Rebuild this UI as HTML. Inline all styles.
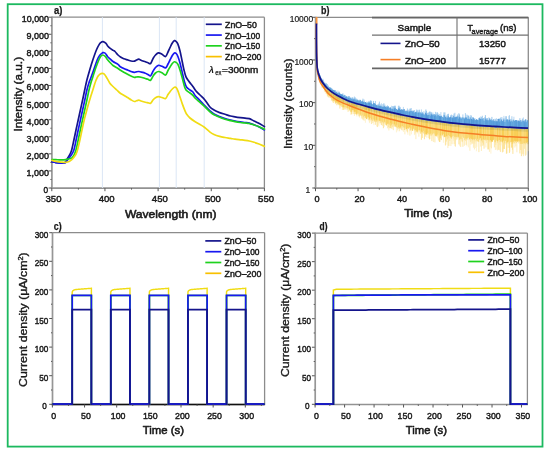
<!DOCTYPE html><html><head><meta charset="utf-8"><style>html,body{margin:0;padding:0;background:#fff;width:550px;height:454px;overflow:hidden}svg{display:block;font-family:"Liberation Sans", sans-serif;will-change:transform}</style></head><body>
<svg width="550" height="454" viewBox="0 0 550 454">
<rect x="0" y="0" width="550" height="454" fill="#fff"/>
<line x1="51.8" y1="17.2" x2="264.4" y2="17.2" stroke="#8c8c8c" stroke-width="1.3"/>
<line x1="264.4" y1="17.2" x2="264.4" y2="188" stroke="#8c8c8c" stroke-width="1.3"/>
<line x1="50.8" y1="188.2" x2="265" y2="188.2" stroke="#929292" stroke-width="1.7"/>
<line x1="51.9" y1="16.6" x2="51.9" y2="189" stroke="#969696" stroke-width="1.7"/>
<line x1="102.4" y1="17.2" x2="102.4" y2="188" stroke="#dbe6f5" stroke-width="1"/>
<line x1="159.4" y1="17.2" x2="159.4" y2="188" stroke="#dbe6f5" stroke-width="1"/>
<line x1="176.2" y1="17.2" x2="176.2" y2="188" stroke="#dbe6f5" stroke-width="1"/>
<line x1="204.2" y1="17.2" x2="204.2" y2="188" stroke="#dbe6f5" stroke-width="1"/>
<g fill="none" stroke-width="1.7" stroke-linejoin="round" stroke-linecap="round">
<path d="M52,161.9C52.67,162.02 54.67,162.4 56,162.6C57.33,162.8 58.75,163.03 60,163.1C61.25,163.17 62.58,163.17 63.5,163C64.42,162.83 64.85,162.83 65.5,162.1C66.15,161.37 66.72,159.78 67.4,158.6C68.08,157.42 68.88,156.43 69.6,155C70.32,153.57 70.98,152.5 71.7,150C72.42,147.5 73.18,143.33 73.9,140C74.62,136.67 75.28,133.33 76,130C76.72,126.67 77.47,123.33 78.2,120C78.93,116.67 79.67,113.33 80.4,110C81.13,106.67 81.88,103.33 82.6,100C83.32,96.67 83.98,93.33 84.7,90C85.42,86.67 86.07,83.33 86.9,80C87.73,76.67 88.72,73.33 89.7,70C90.68,66.67 91.68,63.33 92.8,60C93.92,56.67 95.3,52.65 96.4,50C97.5,47.35 98.58,45.4 99.4,44.1C100.22,42.8 100.7,42.62 101.3,42.2C101.9,41.78 102.22,41.42 103,41.6C103.78,41.78 105.22,42.57 106,43.3C106.78,44.03 107.05,45.18 107.7,46C108.35,46.82 108.98,47.47 109.9,48.2C110.82,48.93 112.35,49.85 113.2,50.4C114.05,50.95 114.2,50.73 115,51.5C115.8,52.27 117.08,54.08 118,55C118.92,55.92 119.53,56.37 120.5,57C121.47,57.63 122.55,58.3 123.8,58.8C125.05,59.3 126.8,59.63 128,60C129.2,60.37 129.93,60.8 131,61C132.07,61.2 133.48,61.37 134.4,61.2C135.32,61.03 135.77,60.35 136.5,60C137.23,59.65 138.05,59.05 138.8,59.1C139.55,59.15 139.92,59.85 141,60.3C142.08,60.75 144.13,61.38 145.3,61.8C146.47,62.22 147.12,62.52 148,62.8C148.88,63.08 149.73,64.27 150.6,63.5C151.47,62.73 152.38,59.62 153.2,58.2C154.02,56.78 154.62,55.88 155.5,55C156.38,54.12 157.42,53.02 158.5,52.9C159.58,52.78 160.82,53.7 162,54.3C163.18,54.9 164.6,56.88 165.6,56.5C166.6,56.12 167.27,53.48 168,52C168.73,50.52 169.28,49.1 170,47.6C170.72,46.1 171.57,44.17 172.3,43C173.03,41.83 173.75,40.85 174.4,40.6C175.05,40.35 175.62,40.92 176.2,41.5C176.78,42.08 177.27,42.52 177.9,44.1C178.53,45.68 179.28,48.1 180,51C180.72,53.9 181.53,58.33 182.2,61.5C182.87,64.67 183.37,67.45 184,70C184.63,72.55 185.17,74.88 186,76.8C186.83,78.72 187.85,79.88 189,81.5C190.15,83.12 191.73,84.92 192.9,86.5C194.07,88.08 194.82,89.58 196,91C197.18,92.42 198.55,93.55 200,95C201.45,96.45 203.08,97.75 204.7,99.7C206.32,101.65 208.15,104.98 209.7,106.7C211.25,108.42 212.35,109.02 214,110C215.65,110.98 217.77,111.88 219.6,112.6C221.43,113.32 223.18,113.73 225,114.3C226.82,114.87 228.83,115.58 230.5,116C232.17,116.42 233.35,116.53 235,116.8C236.65,117.07 238.73,117.37 240.4,117.6C242.07,117.83 243.52,118.03 245,118.2C246.48,118.37 247.8,118.13 249.3,118.6C250.8,119.07 252.5,120.25 254,121C255.5,121.75 256.57,122.18 258.3,123.1C260.03,124.02 263.38,125.93 264.4,126.5" stroke="#14148c"/>
<path d="M52,161.9C52.67,162.02 54.67,162.4 56,162.6C57.33,162.8 58.67,163.03 60,163.1C61.33,163.17 62.93,163.22 64,163C65.07,162.78 65.63,162.57 66.4,161.8C67.17,161.03 67.78,159.53 68.6,158.4C69.42,157.27 70.42,156.4 71.3,155C72.18,153.6 73.1,152.5 73.9,150C74.7,147.5 75.38,143.33 76.1,140C76.82,136.67 77.48,133.33 78.2,130C78.92,126.67 79.67,123.33 80.4,120C81.13,116.67 81.87,113.33 82.6,110C83.33,106.67 84.08,103.33 84.8,100C85.52,96.67 86.22,92.83 86.9,90C87.58,87.17 88.25,85 88.9,83C89.55,81 90,80.17 90.8,78C91.6,75.83 92.63,73 93.7,70C94.77,67 96.18,62.45 97.2,60C98.22,57.55 98.92,56.5 99.8,55.3C100.68,54.1 101.92,53.27 102.5,52.8C103.08,52.33 102.8,52.38 103.3,52.5C103.8,52.62 104.8,52.83 105.5,53.5C106.2,54.17 106.75,55.62 107.5,56.5C108.25,57.38 109.08,57.97 110,58.8C110.92,59.63 111.67,60.57 113,61.5C114.33,62.43 116.83,63.57 118,64.4C119.17,65.23 119.03,65.8 120,66.5C120.97,67.2 122.47,67.98 123.8,68.6C125.13,69.22 126.8,69.72 128,70.2C129.2,70.68 129.93,71.13 131,71.5C132.07,71.87 133.48,72.35 134.4,72.4C135.32,72.45 135.77,71.95 136.5,71.8C137.23,71.65 138.05,71.47 138.8,71.5C139.55,71.53 139.92,71.72 141,72C142.08,72.28 144.13,72.78 145.3,73.2C146.47,73.62 147.12,74.05 148,74.5C148.88,74.95 149.73,76.5 150.6,75.9C151.47,75.3 152.38,72.3 153.2,70.9C154.02,69.5 154.62,68.43 155.5,67.5C156.38,66.57 157.42,65.5 158.5,65.3C159.58,65.1 160.82,65.87 162,66.3C163.18,66.73 164.6,68.28 165.6,67.9C166.6,67.52 167.27,65.32 168,64C168.73,62.68 169.28,61.42 170,60C170.72,58.58 171.57,56.68 172.3,55.5C173.03,54.32 173.75,53.23 174.4,52.9C175.05,52.57 175.62,52.9 176.2,53.5C176.78,54.1 177.27,54.92 177.9,56.5C178.53,58.08 179.25,60.22 180,63C180.75,65.78 181.65,70.03 182.4,73.2C183.15,76.37 183.82,79.7 184.5,82C185.18,84.3 185.58,85.67 186.5,87C187.42,88.33 188.93,89.17 190,90C191.07,90.83 191.98,91 192.9,92C193.82,93 194.32,94.58 195.5,96C196.68,97.42 198.47,98.88 200,100.5C201.53,102.12 203.08,104.02 204.7,105.7C206.32,107.38 208.15,109.22 209.7,110.6C211.25,111.98 212.35,113 214,114C215.65,115 217.77,115.85 219.6,116.6C221.43,117.35 223.18,117.93 225,118.5C226.82,119.07 228.83,119.58 230.5,120C232.17,120.42 233.35,120.68 235,121C236.65,121.32 238.73,121.65 240.4,121.9C242.07,122.15 243.52,122.3 245,122.5C246.48,122.7 247.8,122.72 249.3,123.1C250.8,123.48 252.5,124.23 254,124.8C255.5,125.37 256.57,125.65 258.3,126.5C260.03,127.35 263.38,129.33 264.4,129.9" stroke="#1818f0"/>
<path d="M52,159.5C52.67,159.53 54.67,159.63 56,159.7C57.33,159.77 58.67,159.88 60,159.9C61.33,159.92 62.83,159.88 64,159.8C65.17,159.72 66.08,159.57 67,159.4C67.92,159.23 68.67,159.07 69.5,158.8C70.33,158.53 71.25,158.4 72,157.8C72.75,157.2 73.33,156.5 74,155.2C74.67,153.9 75.3,152.53 76,150C76.7,147.47 77.48,143.33 78.2,140C78.92,136.67 79.58,133.33 80.3,130C81.02,126.67 81.77,123.33 82.5,120C83.23,116.67 83.97,113.33 84.7,110C85.43,106.67 86.18,103.33 86.9,100C87.62,96.67 88.32,92.92 89,90C89.68,87.08 90.37,84.67 91,82.5C91.63,80.33 92.13,79.08 92.8,77C93.47,74.92 94.3,72.08 95,70C95.7,67.92 96.33,66.25 97,64.5C97.67,62.75 98.37,60.87 99,59.5C99.63,58.13 100.2,57.05 100.8,56.3C101.4,55.55 101.87,55 102.6,55C103.33,55 104.43,55.58 105.2,56.3C105.97,57.02 106.4,58.27 107.2,59.3C108,60.33 109.03,61.47 110,62.5C110.97,63.53 111.67,64.5 113,65.5C114.33,66.5 116.75,67.72 118,68.5C119.25,69.28 119.53,69.58 120.5,70.2C121.47,70.82 122.55,71.48 123.8,72.2C125.05,72.92 126.8,73.87 128,74.5C129.2,75.13 129.93,75.53 131,76C132.07,76.47 133.48,77.13 134.4,77.3C135.32,77.47 135.77,77.08 136.5,77C137.23,76.92 138.05,76.77 138.8,76.8C139.55,76.83 139.92,76.92 141,77.2C142.08,77.48 144.13,78.15 145.3,78.5C146.47,78.85 147.12,79 148,79.3C148.88,79.6 149.73,80.87 150.6,80.3C151.47,79.73 152.38,77.12 153.2,75.9C154.02,74.68 154.62,73.73 155.5,73C156.38,72.27 157.42,71.53 158.5,71.5C159.58,71.47 160.82,72.22 162,72.8C163.18,73.38 164.6,75.38 165.6,75C166.6,74.62 167.27,71.82 168,70.5C168.73,69.18 169.28,68.27 170,67.1C170.72,65.93 171.57,64.38 172.3,63.5C173.03,62.62 173.75,61.97 174.4,61.8C175.05,61.63 175.62,62.07 176.2,62.5C176.78,62.93 177.27,63.15 177.9,64.4C178.53,65.65 179.25,67.65 180,70C180.75,72.35 181.58,75.53 182.4,78.5C183.22,81.47 184.22,85.8 184.9,87.8C185.58,89.8 185.65,89.63 186.5,90.5C187.35,91.37 188.93,92.2 190,93C191.07,93.8 191.98,94.38 192.9,95.3C193.82,96.22 194.32,97.33 195.5,98.5C196.68,99.67 198.47,100.93 200,102.3C201.53,103.67 203.08,105.15 204.7,106.7C206.32,108.25 208.15,110.25 209.7,111.6C211.25,112.95 212.35,113.87 214,114.8C215.65,115.73 217.77,116.47 219.6,117.2C221.43,117.93 223.18,118.63 225,119.2C226.82,119.77 228.83,120.2 230.5,120.6C232.17,121 233.35,121.28 235,121.6C236.65,121.92 238.73,122.27 240.4,122.5C242.07,122.73 243.52,122.83 245,123C246.48,123.17 247.8,123.17 249.3,123.5C250.8,123.83 252.5,124.5 254,125C255.5,125.5 256.57,125.82 258.3,126.5C260.03,127.18 263.38,128.67 264.4,129.1" stroke="#1ed21e"/>
<path d="M52,160.4C52.67,160.55 54.42,161.02 56,161.3C57.58,161.58 60,161.92 61.5,162.1C63,162.28 64,162.42 65,162.4C66,162.38 66.73,162.2 67.5,162C68.27,161.8 68.93,161.57 69.6,161.2C70.27,160.83 70.85,160.38 71.5,159.8C72.15,159.22 72.78,158.58 73.5,157.7C74.22,156.82 75.13,155.78 75.8,154.5C76.47,153.22 76.82,152.42 77.5,150C78.18,147.58 79.15,143.33 79.9,140C80.65,136.67 81.28,133.33 82,130C82.72,126.67 83.48,123 84.2,120C84.92,117 85.57,114.75 86.3,112C87.03,109.25 87.78,106.33 88.6,103.5C89.42,100.67 90.37,97.67 91.2,95C92.03,92.33 92.82,89.92 93.6,87.5C94.38,85.08 95.12,82.45 95.9,80.5C96.68,78.55 97.58,76.88 98.3,75.8C99.02,74.72 99.57,74.42 100.2,74C100.83,73.58 101.47,73.33 102.1,73.3C102.73,73.27 103.35,73.27 104,73.8C104.65,74.33 105.05,74.98 106,76.5C106.95,78.02 108.53,81.23 109.7,82.9C110.87,84.57 111.82,85.32 113,86.5C114.18,87.68 115.63,88.92 116.8,90C117.97,91.08 118.83,92.12 120,93C121.17,93.88 122.47,94.5 123.8,95.3C125.13,96.1 126.8,97.05 128,97.8C129.2,98.55 129.93,99.18 131,99.8C132.07,100.42 133.48,101.33 134.4,101.5C135.32,101.67 135.77,101.02 136.5,100.8C137.23,100.58 138.05,100.17 138.8,100.2C139.55,100.23 139.92,100.65 141,101C142.08,101.35 144.13,102 145.3,102.3C146.47,102.6 147.12,102.65 148,102.8C148.88,102.95 149.73,103.72 150.6,103.2C151.47,102.68 152.38,100.6 153.2,99.7C154.02,98.8 154.62,98.3 155.5,97.8C156.38,97.3 157.42,96.75 158.5,96.7C159.58,96.65 160.82,97.2 162,97.5C163.18,97.8 164.6,99 165.6,98.5C166.6,98 167.27,95.62 168,94.5C168.73,93.38 169.28,92.72 170,91.8C170.72,90.88 171.57,89.75 172.3,89C173.03,88.25 173.75,87.53 174.4,87.3C175.05,87.07 175.62,87 176.2,87.6C176.78,88.2 177.27,89.33 177.9,90.9C178.53,92.47 179.25,94.8 180,97C180.75,99.2 181.58,101.83 182.4,104.1C183.22,106.37 184.15,108.85 184.9,110.6C185.65,112.35 186.05,113.37 186.9,114.6C187.75,115.83 188.68,116.85 190,118C191.32,119.15 193.13,120.42 194.8,121.5C196.47,122.58 198.35,123.5 200,124.5C201.65,125.5 203.08,126.27 204.7,127.5C206.32,128.73 208.15,130.73 209.7,131.9C211.25,133.07 212.35,133.75 214,134.5C215.65,135.25 217.77,135.9 219.6,136.4C221.43,136.9 223.18,137.17 225,137.5C226.82,137.83 228.83,138.12 230.5,138.4C232.17,138.68 233.35,138.97 235,139.2C236.65,139.43 238.73,139.62 240.4,139.8C242.07,139.98 243.52,140.1 245,140.3C246.48,140.5 247.8,140.67 249.3,141C250.8,141.33 252.5,141.83 254,142.3C255.5,142.77 256.57,143.13 258.3,143.8C260.03,144.47 263.38,145.88 264.4,146.3" stroke="#f0dc14"/>
</g>
<line x1="48.6" y1="188" x2="51.5" y2="188" stroke="#555555" stroke-width="1"/>
<line x1="50.4" y1="179.46" x2="51.6" y2="179.46" stroke="#555555" stroke-width="1"/>
<line x1="48.6" y1="170.92" x2="51.5" y2="170.92" stroke="#555555" stroke-width="1"/>
<line x1="50.4" y1="162.38" x2="51.6" y2="162.38" stroke="#555555" stroke-width="1"/>
<line x1="48.6" y1="153.84" x2="51.5" y2="153.84" stroke="#555555" stroke-width="1"/>
<line x1="50.4" y1="145.3" x2="51.6" y2="145.3" stroke="#555555" stroke-width="1"/>
<line x1="48.6" y1="136.76" x2="51.5" y2="136.76" stroke="#555555" stroke-width="1"/>
<line x1="50.4" y1="128.22" x2="51.6" y2="128.22" stroke="#555555" stroke-width="1"/>
<line x1="48.6" y1="119.68" x2="51.5" y2="119.68" stroke="#555555" stroke-width="1"/>
<line x1="50.4" y1="111.14" x2="51.6" y2="111.14" stroke="#555555" stroke-width="1"/>
<line x1="48.6" y1="102.6" x2="51.5" y2="102.6" stroke="#555555" stroke-width="1"/>
<line x1="50.4" y1="94.06" x2="51.6" y2="94.06" stroke="#555555" stroke-width="1"/>
<line x1="48.6" y1="85.52" x2="51.5" y2="85.52" stroke="#555555" stroke-width="1"/>
<line x1="50.4" y1="76.98" x2="51.6" y2="76.98" stroke="#555555" stroke-width="1"/>
<line x1="48.6" y1="68.44" x2="51.5" y2="68.44" stroke="#555555" stroke-width="1"/>
<line x1="50.4" y1="59.9" x2="51.6" y2="59.9" stroke="#555555" stroke-width="1"/>
<line x1="48.6" y1="51.36" x2="51.5" y2="51.36" stroke="#555555" stroke-width="1"/>
<line x1="50.4" y1="42.82" x2="51.6" y2="42.82" stroke="#555555" stroke-width="1"/>
<line x1="48.6" y1="34.28" x2="51.5" y2="34.28" stroke="#555555" stroke-width="1"/>
<line x1="50.4" y1="25.74" x2="51.6" y2="25.74" stroke="#555555" stroke-width="1"/>
<line x1="48.6" y1="17.2" x2="51.5" y2="17.2" stroke="#555555" stroke-width="1"/>
<line x1="51.8" y1="188.2" x2="51.8" y2="191.2" stroke="#555555" stroke-width="1"/>
<line x1="78.38" y1="188.2" x2="78.38" y2="189.6" stroke="#555555" stroke-width="1"/>
<line x1="104.95" y1="188.2" x2="104.95" y2="191.2" stroke="#555555" stroke-width="1"/>
<line x1="131.52" y1="188.2" x2="131.52" y2="189.6" stroke="#555555" stroke-width="1"/>
<line x1="158.1" y1="188.2" x2="158.1" y2="191.2" stroke="#555555" stroke-width="1"/>
<line x1="184.68" y1="188.2" x2="184.68" y2="189.6" stroke="#555555" stroke-width="1"/>
<line x1="211.25" y1="188.2" x2="211.25" y2="191.2" stroke="#555555" stroke-width="1"/>
<line x1="237.82" y1="188.2" x2="237.82" y2="189.6" stroke="#555555" stroke-width="1"/>
<line x1="264.4" y1="188.2" x2="264.4" y2="191.2" stroke="#555555" stroke-width="1"/>
<text x="48" y="192.9" font-size="9.4" text-anchor="end" font-weight="normal" fill="#1a1a1a" stroke="#1a1a1a" stroke-width="0.45" stroke-linejoin="round" textLength="4.6" lengthAdjust="spacingAndGlyphs" >0</text>
<text x="49" y="175.82" font-size="9.4" text-anchor="end" font-weight="normal" fill="#1a1a1a" stroke="#1a1a1a" stroke-width="0.45" stroke-linejoin="round" textLength="22.58" lengthAdjust="spacingAndGlyphs" >1,000</text>
<text x="49" y="158.74" font-size="9.4" text-anchor="end" font-weight="normal" fill="#1a1a1a" stroke="#1a1a1a" stroke-width="0.45" stroke-linejoin="round" textLength="22.58" lengthAdjust="spacingAndGlyphs" >2,000</text>
<text x="49" y="141.66" font-size="9.4" text-anchor="end" font-weight="normal" fill="#1a1a1a" stroke="#1a1a1a" stroke-width="0.45" stroke-linejoin="round" textLength="22.58" lengthAdjust="spacingAndGlyphs" >3,000</text>
<text x="49" y="124.58" font-size="9.4" text-anchor="end" font-weight="normal" fill="#1a1a1a" stroke="#1a1a1a" stroke-width="0.45" stroke-linejoin="round" textLength="22.58" lengthAdjust="spacingAndGlyphs" >4,000</text>
<text x="49" y="107.5" font-size="9.4" text-anchor="end" font-weight="normal" fill="#1a1a1a" stroke="#1a1a1a" stroke-width="0.45" stroke-linejoin="round" textLength="22.58" lengthAdjust="spacingAndGlyphs" >5,000</text>
<text x="49" y="90.42" font-size="9.4" text-anchor="end" font-weight="normal" fill="#1a1a1a" stroke="#1a1a1a" stroke-width="0.45" stroke-linejoin="round" textLength="22.58" lengthAdjust="spacingAndGlyphs" >6,000</text>
<text x="49" y="73.34" font-size="9.4" text-anchor="end" font-weight="normal" fill="#1a1a1a" stroke="#1a1a1a" stroke-width="0.45" stroke-linejoin="round" textLength="22.58" lengthAdjust="spacingAndGlyphs" >7,000</text>
<text x="49" y="56.26" font-size="9.4" text-anchor="end" font-weight="normal" fill="#1a1a1a" stroke="#1a1a1a" stroke-width="0.45" stroke-linejoin="round" textLength="22.58" lengthAdjust="spacingAndGlyphs" >8,000</text>
<text x="49" y="39.18" font-size="9.4" text-anchor="end" font-weight="normal" fill="#1a1a1a" stroke="#1a1a1a" stroke-width="0.45" stroke-linejoin="round" textLength="22.58" lengthAdjust="spacingAndGlyphs" >9,000</text>
<text x="49" y="22.1" font-size="9.4" text-anchor="end" font-weight="normal" fill="#1a1a1a" stroke="#1a1a1a" stroke-width="0.45" stroke-linejoin="round" textLength="27.18" lengthAdjust="spacingAndGlyphs" >10,000</text>
<text x="53.5" y="202.3" font-size="9.5" text-anchor="middle" font-weight="normal" fill="#1a1a1a" stroke="#1a1a1a" stroke-width="0.45" stroke-linejoin="round" textLength="16" lengthAdjust="spacingAndGlyphs" >350</text>
<text x="106.65" y="202.3" font-size="9.5" text-anchor="middle" font-weight="normal" fill="#1a1a1a" stroke="#1a1a1a" stroke-width="0.45" stroke-linejoin="round" textLength="16" lengthAdjust="spacingAndGlyphs" >400</text>
<text x="159.8" y="202.3" font-size="9.5" text-anchor="middle" font-weight="normal" fill="#1a1a1a" stroke="#1a1a1a" stroke-width="0.45" stroke-linejoin="round" textLength="16" lengthAdjust="spacingAndGlyphs" >450</text>
<text x="212.95" y="202.3" font-size="9.5" text-anchor="middle" font-weight="normal" fill="#1a1a1a" stroke="#1a1a1a" stroke-width="0.45" stroke-linejoin="round" textLength="16" lengthAdjust="spacingAndGlyphs" >500</text>
<text x="266.1" y="202.3" font-size="9.5" text-anchor="middle" font-weight="normal" fill="#1a1a1a" stroke="#1a1a1a" stroke-width="0.45" stroke-linejoin="round" textLength="16" lengthAdjust="spacingAndGlyphs" >550</text>
<text x="170.7" y="217.6" font-size="11.6" text-anchor="middle" font-weight="normal" fill="#1a1a1a" stroke="#1a1a1a" stroke-width="0.6" stroke-linejoin="round" textLength="91.6" lengthAdjust="spacingAndGlyphs" >Wavelength (nm)</text>
<text x="0" y="0" font-size="11.4" text-anchor="middle" fill="#1a1a1a" stroke="#1a1a1a" stroke-width="0.45" stroke-linejoin="round" textLength="74.5" lengthAdjust="spacingAndGlyphs" transform="translate(21.8,94.2) rotate(-90)">Intensity (a.u.)</text>
<text x="54" y="13.6" font-size="10.3" text-anchor="start" font-weight="bold" fill="#1a1a1a" stroke="#1a1a1a" stroke-width="0.25" stroke-linejoin="round" textLength="8.4" lengthAdjust="spacingAndGlyphs" >a)</text>
<line x1="205.8" y1="24.3" x2="221.8" y2="24.3" stroke="#14148c" stroke-width="1.7"/>
<text x="225.1" y="27.9" font-size="8.6" text-anchor="start" font-weight="normal" fill="#1a1a1a" stroke="#1a1a1a" stroke-width="0.45" stroke-linejoin="round" textLength="31.7" lengthAdjust="spacingAndGlyphs" >ZnO&#8211;50</text>
<line x1="205.8" y1="35.07" x2="221.8" y2="35.07" stroke="#1818f0" stroke-width="1.7"/>
<text x="225.1" y="38.67" font-size="8.6" text-anchor="start" font-weight="normal" fill="#1a1a1a" stroke="#1a1a1a" stroke-width="0.45" stroke-linejoin="round" textLength="35" lengthAdjust="spacingAndGlyphs" >ZnO&#8211;100</text>
<line x1="205.8" y1="45.84" x2="221.8" y2="45.84" stroke="#1ed21e" stroke-width="1.7"/>
<text x="225.1" y="49.44" font-size="8.6" text-anchor="start" font-weight="normal" fill="#1a1a1a" stroke="#1a1a1a" stroke-width="0.45" stroke-linejoin="round" textLength="35" lengthAdjust="spacingAndGlyphs" >ZnO&#8211;150</text>
<line x1="205.8" y1="56.61" x2="221.8" y2="56.61" stroke="#f8c000" stroke-width="1.7"/>
<text x="225.1" y="60.21" font-size="8.6" text-anchor="start" font-weight="normal" fill="#1a1a1a" stroke="#1a1a1a" stroke-width="0.45" stroke-linejoin="round" textLength="36.3" lengthAdjust="spacingAndGlyphs" >ZnO&#8211;200</text>
<text x="208.7" y="73.2" font-size="9.4" font-style="italic" font-weight="bold" fill="#1a1a1a">&#955;</text>
<text x="215.3" y="74.6" font-size="6.6" text-anchor="start" font-weight="normal" fill="#1a1a1a" stroke="#1a1a1a" stroke-width="0.25" stroke-linejoin="round" textLength="6.3" lengthAdjust="spacingAndGlyphs" >ex</text>
<text x="222.1" y="73.2" font-size="8.6" text-anchor="start" font-weight="normal" fill="#1a1a1a" stroke="#1a1a1a" stroke-width="0.4" stroke-linejoin="round" textLength="36.3" lengthAdjust="spacingAndGlyphs" >=300nm</text>
<line x1="315.5" y1="17.3" x2="528.3" y2="17.3" stroke="#8c8c8c" stroke-width="1.3"/>
<line x1="528.3" y1="17.3" x2="528.3" y2="188" stroke="#8c8c8c" stroke-width="1.3"/>
<line x1="314.5" y1="188.2" x2="528.9" y2="188.2" stroke="#929292" stroke-width="1.7"/>
<line x1="315.6" y1="16.7" x2="315.6" y2="189" stroke="#969696" stroke-width="1.7"/>
<path d="M317.9,74.5L317.9,69.2 M321.4,84.1L321.4,78.37 M325.4,89.66L325.4,83.77 M326.9,91.35L326.9,85.3 M334.9,97.4L334.9,91.04 M339.9,100.25L339.9,93.23 M340.4,100.5L340.4,94.06 M343.4,102L343.4,95.89 M346.4,103.5L346.4,96.33 M346.9,103.75L346.9,96.49 M348.9,104.58L348.9,97.68 M351.4,105.37L351.4,99.05 M355.9,106.79L355.9,100.17 M356.4,106.95L356.4,99.65 M357.4,107.26L357.4,99.79 M360.9,108.31L360.9,101.52 M363.4,109.01L363.4,102.01 M365.4,109.58L365.4,102.09 M368.9,110.56L368.9,102.46 M373.4,111.74L373.4,102.89 M374.4,111.99L374.4,103.24 M376.4,112.5L376.4,104.92 M378.4,113.01L378.4,104.65 M380.9,113.65L380.9,106.17 M384.4,114.44L384.4,106.18 M385.4,114.67L385.4,106.84 M385.9,114.78L385.9,106.74 M386.9,115L386.9,107.94 M389.9,115.68L389.9,107.91 M390.4,115.79L390.4,107.21 M396.9,117.22L396.9,109.1 M400.9,118.09L400.9,109.76 M401.9,118.3L401.9,109.25 M409.4,119.86L409.4,111.58 M411.4,120.27L411.4,110.69 M412.4,120.47L412.4,111.76 M416.4,121.2L416.4,111.87 M418.4,121.56L418.4,112.58 M420.9,122.02L420.9,113.37 M422.4,122.29L422.4,112.34 M423.4,122.46L423.4,113.53 M424.4,122.61L424.4,114.56 M425.4,122.77L425.4,112.76 M426.4,122.92L426.4,113.25 M427.4,123.07L427.4,115.06 M430.4,123.53L430.4,115.66 M430.9,123.61L430.9,113.69 M432.9,123.92L432.9,114.41 M437.4,124.55L437.4,114.27 M438.9,124.76L438.9,114.55 M444.9,125.59L444.9,115.45 M445.4,125.65L445.4,116.69 M447.9,125.94L447.9,116.38 M450.4,126.23L450.4,117.01 M451.9,126.41L451.9,117.89 M452.9,126.53L452.9,117.98 M453.4,126.58L453.4,115.89 M454.4,126.7L454.4,117.1 M455.4,126.82L455.4,117.31 M455.9,126.88L455.9,116.92 M461.4,127.4L461.4,118.68 M463.9,127.63L463.9,117.46 M464.9,127.72L464.9,117.97 M465.9,127.82L465.9,117.39 M470.9,128.27L470.9,118.22 M471.9,128.36L471.9,118.95 M472.4,128.4L472.4,119.53 M473.4,128.48L473.4,117.43 M477.4,128.82L477.4,119.94 M479.4,128.98L479.4,117.59 M481.9,129.19L481.9,118.33 M485.4,129.4L485.4,118.9 M489.9,129.66L489.9,118.47 M491.9,129.78L491.9,120.75 M493.4,129.86L493.4,119.26 M495.4,129.98L495.4,121.27 M498.9,130.19L498.9,119 M500.9,130.31L500.9,119.21 M502.9,130.43L502.9,121.38 M506.4,130.62L506.4,119.42 M510.9,130.84L510.9,121.2 M512.9,130.94L512.9,120.6 M516.4,131.12L516.4,120 M516.9,131.14L516.9,121.25 M518.4,131.22L518.4,120.73 M519.4,131.27L519.4,121.29 M519.9,131.29L519.9,120.76 M522.9,131.44L522.9,120.79 M523.4,131.47L523.4,120.47 M526.4,131.62L526.4,122.1" fill="none" stroke="#3d8ed5" stroke-width="0.75"/>
<path d="M316.9,65.37L316.9,60.39 M320.9,83.27L320.9,77.55 M324.9,89.04L324.9,82.8 M329.4,93.53L329.4,87.31 M329.9,93.96L329.9,87.65 M331.4,95.07L331.4,89.2 M332.9,96.07L332.9,89.91 M335.4,97.73L335.4,91.35 M336.9,98.73L336.9,92.77 M341.4,101L341.4,94.44 M342.4,101.5L342.4,94.49 M342.9,101.75L342.9,94.39 M343.9,102.25L343.9,95.41 M345.4,103L345.4,96.28 M349.4,104.74L349.4,98.21 M349.9,104.9L349.9,97.26 M352.4,105.69L352.4,99.03 M355.4,106.63L355.4,99.14 M356.9,107.11L356.9,100.57 M360.4,108.17L360.4,99.97 M361.4,108.45L361.4,101.31 M362.4,108.73L362.4,100.46 M363.9,109.15L363.9,101.62 M366.4,109.86L366.4,103.08 M371.4,111.23L371.4,102.57 M375.9,112.38L375.9,104.81 M384.9,114.55L384.9,106.25 M386.4,114.89L386.4,106.45 M388.4,115.34L388.4,106.36 M391.9,116.12L391.9,108.74 M394.4,116.67L394.4,107.36 M396.4,117.11L396.4,108.93 M397.9,117.44L397.9,109.9 M399.9,117.88L399.9,108.37 M405.4,119.02L405.4,110.69 M406.4,119.23L406.4,110.62 M407.4,119.44L407.4,110.69 M408.9,119.75L408.9,110.48 M410.4,120.07L410.4,110.65 M413.4,120.65L413.4,110.71 M413.9,120.75L413.9,112.66 M419.9,121.84L419.9,111.85 M421.9,122.2L421.9,113.75 M422.9,122.38L422.9,113.44 M434.4,124.14L434.4,114.11 M436.9,124.49L436.9,115.14 M438.4,124.69L438.4,115.11 M441.4,125.1L441.4,115.78 M445.9,125.71L445.9,117.32 M446.4,125.76L446.4,117.66 M454.9,126.76L454.9,116.37 M456.4,126.93L456.4,117.01 M457.9,127.07L457.9,116.2 M458.4,127.12L458.4,118.6 M458.9,127.16L458.9,116.63 M460.4,127.3L460.4,118.22 M461.9,127.44L461.9,117.81 M465.4,127.77L465.4,116.87 M466.4,127.86L466.4,117.2 M466.9,127.91L466.9,117.5 M468.9,128.1L468.9,118.69 M477.9,128.86L477.9,119.71 M478.4,128.9L478.4,120.3 M480.9,129.11L480.9,118.41 M482.4,129.22L482.4,118.73 M487.4,129.51L487.4,120.07 M487.9,129.54L487.9,120.21 M488.4,129.57L488.4,120.41 M490.4,129.69L490.4,119.76 M490.9,129.72L490.9,120.19 M492.4,129.81L492.4,120.14 M492.9,129.84L492.9,121.16 M496.4,130.04L496.4,121 M501.4,130.34L501.4,119.41 M502.4,130.4L502.4,121.01 M504.9,130.54L504.9,121.74 M507.4,130.67L507.4,119.49 M511.4,130.87L511.4,120.81 M512.4,130.92L512.4,121.76 M513.4,130.97L513.4,119.53 M514.4,131.02L514.4,120.85 M515.4,131.07L515.4,120.08 M518.9,131.24L518.9,121 M520.4,131.32L520.4,120.02 M527.4,131.67L527.4,120.24" fill="none" stroke="#4896d8" stroke-width="0.75"/>
<path d="M319.9,80.96L319.9,75.07 M322.4,85.6L322.4,79.92 M322.9,86.35L322.9,80.08 M323.9,87.82L323.9,81.68 M325.9,90.27L325.9,84.16 M330.4,94.4L330.4,87.64 M332.4,95.73L332.4,89.46 M336.4,98.4L336.4,91.77 M337.4,99L337.4,92.9 M338.9,99.75L338.9,93.3 M340.9,100.75L340.9,94.35 M341.9,101.25L341.9,94 M344.9,102.75L344.9,95.46 M348.4,104.43L348.4,97.48 M353.4,106L353.4,99.43 M358.4,107.58L358.4,100.75 M359.9,108.03L359.9,99.76 M361.9,108.59L361.9,101.64 M362.9,108.87L362.9,101.07 M364.9,109.43L364.9,102.11 M365.9,109.72L365.9,102.07 M366.9,110L366.9,103.13 M367.9,110.28L367.9,102.26 M369.4,110.7L369.4,102.19 M369.9,110.84L369.9,102.84 M371.9,111.36L371.9,103.96 M372.9,111.61L372.9,104.46 M376.9,112.63L376.9,105.73 M377.9,112.89L377.9,104.58 M379.9,113.39L379.9,105.81 M387.9,115.23L387.9,106.5 M390.9,115.9L390.9,108.01 M393.9,116.56L393.9,108.34 M394.9,116.78L394.9,108.36 M395.4,116.89L395.4,107.62 M397.4,117.33L397.4,110.08 M398.4,117.55L398.4,108.16 M399.4,117.77L399.4,108.47 M400.4,117.98L400.4,109.65 M402.9,118.5L402.9,109.62 M403.9,118.71L403.9,110.68 M404.4,118.82L404.4,109.09 M407.9,119.55L407.9,111.34 M409.9,119.96L409.9,111.09 M415.4,121.02L415.4,111.85 M418.9,121.65L418.9,112.25 M425.9,122.84L425.9,112.7 M426.9,123L426.9,114.3 M428.4,123.23L428.4,114.94 M431.4,123.69L431.4,114.28 M431.9,123.76L431.9,113.97 M433.9,124.07L433.9,115.21 M434.9,124.21L434.9,115.88 M439.4,124.83L439.4,116.12 M439.9,124.9L439.9,115.97 M440.4,124.97L440.4,116.41 M440.9,125.04L440.9,115.52 M443.4,125.38L443.4,117.32 M447.4,125.88L447.4,117.35 M448.9,126.06L448.9,117.57 M449.4,126.12L449.4,117.28 M450.9,126.29L450.9,115.4 M452.4,126.47L452.4,117.23 M459.4,127.21L459.4,117.08 M459.9,127.26L459.9,116.6 M464.4,127.68L464.4,119.2 M467.4,127.96L467.4,118.94 M469.4,128.14L469.4,119.02 M469.9,128.19L469.9,119.38 M471.4,128.32L471.4,118.81 M473.9,128.52L473.9,119.5 M475.9,128.69L475.9,119.99 M476.4,128.73L476.4,119.09 M479.9,129.02L479.9,118.87 M483.4,129.28L483.4,120.27 M485.9,129.43L485.9,117.99 M495.9,130.01L495.9,119.38 M496.9,130.07L496.9,121.38 M497.4,130.1L497.4,121.31 M499.4,130.22L499.4,119.08 M503.9,130.49L503.9,119.74 M507.9,130.69L507.9,119.68 M510.4,130.82L510.4,121.51 M517.9,131.19L517.9,120.22 M521.9,131.39L521.9,120.33 M524.4,131.52L524.4,120.45 M524.9,131.54L524.9,122.23" fill="none" stroke="#3a8ad3" stroke-width="0.75"/>
<path d="M318.4,76.63L318.4,71.63 M319.4,79.8L319.4,74.24 M321.9,84.85L321.9,79 M326.4,90.88L326.4,84.73 M327.4,91.78L327.4,85.58 M327.9,92.22L327.9,86.27 M328.4,92.66L328.4,86.35 M328.9,93.09L328.9,87.22 M330.9,94.73L330.9,87.78 M333.9,96.73L333.9,89.94 M337.9,99.25L337.9,92.45 M338.4,99.5L338.4,92.89 M344.4,102.5L344.4,94.85 M347.4,104L347.4,97.62 M347.9,104.25L347.9,96.79 M350.4,105.06L350.4,97.76 M351.9,105.53L351.9,97.59 M354.9,106.48L354.9,100.06 M358.9,107.74L358.9,100.27 M364.4,109.29L364.4,101.91 M367.4,110.14L367.4,103.21 M370.4,110.98L370.4,102.5 M372.4,111.49L372.4,104.29 M374.9,112.12L374.9,103.94 M377.4,112.76L377.4,105.76 M378.9,113.14L378.9,105.9 M381.4,113.77L381.4,105.54 M382.9,114.1L382.9,106.41 M388.9,115.45L388.9,107.9 M389.4,115.57L389.4,107.6 M391.4,116.01L391.4,108.56 M393.4,116.45L393.4,109.23 M395.9,117L395.9,109.41 M404.9,118.92L404.9,110.97 M406.9,119.34L406.9,111.12 M408.4,119.65L408.4,112.17 M410.9,120.17L410.9,111.1 M411.9,120.38L411.9,110.66 M414.4,120.84L414.4,111.59 M416.9,121.29L416.9,112.24 M417.4,121.38L417.4,112.44 M417.9,121.47L417.9,111.64 M419.4,121.75L419.4,112.41 M420.4,121.93L420.4,112.52 M423.9,122.54L423.9,114.48 M424.9,122.69L424.9,114.52 M428.9,123.3L428.9,114.74 M429.4,123.38L429.4,114.64 M429.9,123.46L429.9,114.43 M433.4,123.99L433.4,114.25 M436.4,124.42L436.4,116.13 M437.9,124.62L437.9,115.6 M441.9,125.17L441.9,116.96 M442.4,125.24L442.4,117.02 M442.9,125.31L442.9,116.72 M444.4,125.52L444.4,115.13 M446.9,125.82L446.9,115.52 M451.4,126.35L451.4,117.17 M457.4,127.02L457.4,116.43 M460.9,127.35L460.9,117.23 M462.4,127.49L462.4,117.46 M462.9,127.54L462.9,116.94 M463.4,127.58L463.4,118.29 M467.9,128L467.9,118.91 M470.4,128.23L470.4,117.35 M474.9,128.61L474.9,120.1 M478.9,128.94L478.9,118.13 M481.4,129.15L481.4,119.07 M482.9,129.25L482.9,118.8 M483.9,129.31L483.9,118.07 M484.4,129.34L484.4,120.84 M484.9,129.37L484.9,119.43 M488.9,129.6L488.9,120.04 M494.9,129.95L494.9,121.14 M500.4,130.28L500.4,120.69 M504.4,130.52L504.4,119.38 M505.4,130.57L505.4,120.21 M505.9,130.59L505.9,119.8 M506.9,130.64L506.9,119.06 M508.4,130.72L508.4,121.55 M511.9,130.89L511.9,119.67 M513.9,130.99L513.9,120.07 M517.4,131.17L517.4,121.5 M521.4,131.37L521.4,121.78 M522.4,131.42L522.4,121.12 M523.9,131.49L523.9,122.52 M525.9,131.59L525.9,119.26 M526.9,131.64L526.9,120.52 M527.9,131.69L527.9,120.54" fill="none" stroke="#5aa3de" stroke-width="0.75"/>
<path d="M317.4,72L317.4,67.16 M318.9,78.22L318.9,73.05 M320.4,82.11L320.4,76.49 M323.4,87.1L323.4,81.54 M324.4,88.43L324.4,83.01 M331.9,95.4L331.9,89.06 M333.4,96.4L333.4,89.94 M334.4,97.07L334.4,90.19 M335.9,98.07L335.9,92.08 M339.4,100L339.4,93 M345.9,103.25L345.9,96.77 M350.9,105.21L350.9,98.33 M352.9,105.85L352.9,99.09 M353.9,106.16L353.9,98.62 M354.4,106.32L354.4,98.31 M357.9,107.42L357.9,99.84 M359.4,107.88L359.4,100.93 M368.4,110.42L368.4,102.66 M370.9,111.1L370.9,102.5 M373.9,111.87L373.9,103.04 M375.4,112.25L375.4,103.56 M379.4,113.27L379.4,104.27 M380.4,113.52L380.4,105.57 M381.9,113.88L381.9,106.73 M382.4,113.99L382.4,106.68 M383.4,114.22L383.4,106.91 M383.9,114.33L383.9,105.72 M387.4,115.12L387.4,106.93 M392.4,116.23L392.4,108.4 M392.9,116.34L392.9,108.9 M398.9,117.66L398.9,108.03 M401.4,118.19L401.4,109.37 M402.4,118.4L402.4,110.08 M403.4,118.61L403.4,109.07 M405.9,119.13L405.9,111.56 M412.9,120.56L412.9,110.74 M414.9,120.93L414.9,113.08 M415.9,121.11L415.9,111.97 M421.4,122.11L421.4,112.56 M427.9,123.15L427.9,113.08 M432.4,123.84L432.4,115.24 M435.4,124.28L435.4,114.34 M435.9,124.35L435.9,114.37 M443.9,125.45L443.9,114.78 M448.4,126L448.4,115.73 M449.9,126.17L449.9,117.99 M453.9,126.64L453.9,115.89 M456.9,126.97L456.9,116.36 M468.4,128.05L468.4,118.33 M472.9,128.44L472.9,118.17 M474.4,128.57L474.4,118.9 M475.4,128.65L475.4,120.12 M476.9,128.77L476.9,119.76 M480.4,129.07L480.4,118.85 M486.4,129.46L486.4,120.12 M486.9,129.49L486.9,118.83 M489.4,129.63L489.4,118.41 M491.4,129.75L491.4,119.33 M493.9,129.89L493.9,121.09 M494.4,129.92L494.4,120.69 M497.9,130.13L497.9,119.02 M498.4,130.16L498.4,118.78 M499.9,130.25L499.9,121.43 M501.9,130.37L501.9,119.77 M503.4,130.46L503.4,118.54 M508.9,130.74L508.9,119.69 M509.4,130.77L509.4,119.28 M509.9,130.79L509.9,119.63 M514.9,131.04L514.9,120.78 M515.9,131.09L515.9,120.08 M520.9,131.34L520.9,122.11 M525.4,131.57L525.4,119.43" fill="none" stroke="#4592d6" stroke-width="0.75"/>
<path d="M319.4,74.44L319.4,73.59 M322.9,80.28L322.9,78.87 M326.4,84.93L326.4,83.2 M335.4,91.55L335.4,90.01 M335.9,92.28L335.9,90.61 M338.4,93.09L338.4,91.82 M352.4,99.23L352.4,97.57 M354.4,98.51L354.4,96.56 M356.9,100.77L356.9,98.81 M362.9,101.27L362.9,98.66 M366.9,103.33L366.9,101.54 M369.9,103.04L369.9,101.47 M371.4,102.77L371.4,101.01 M375.4,103.76L375.4,100.93 M379.4,104.47L379.4,101.61 M380.9,106.37L380.9,104.6 M384.9,106.45L384.9,104.66 M392.9,109.1L392.9,106.08 M394.4,107.56L394.4,105.69 M398.4,108.36L398.4,106.09 M410.4,110.85L410.4,108.48 M414.4,111.79L414.4,110 M418.9,112.45L418.9,109.83 M419.4,112.61L419.4,109.71 M421.9,113.95L421.9,111.68 M423.9,114.68L423.9,111.23 M432.9,114.61L432.9,112.52 M435.9,114.57L435.9,111.98 M436.4,116.33L436.4,113.58 M437.4,114.47L437.4,112.19 M437.9,115.8L437.9,113.15 M439.9,116.17L439.9,113.91 M443.4,117.52L443.4,115.23 M443.9,114.98L443.9,112.36 M447.4,117.55L447.4,114.16 M451.4,117.37L451.4,114.6 M452.9,118.18L452.9,115.02 M454.9,116.57L454.9,112.78 M457.4,116.63L457.4,114.52 M462.9,117.14L462.9,114.41 M465.4,117.07L465.4,113.14 M468.9,118.89L468.9,115.61 M480.9,118.61L480.9,116.38 M481.4,119.27L481.4,117.01 M482.4,118.93L482.4,115.77 M484.9,119.63L484.9,116.96 M488.9,120.24L488.9,117.31 M494.9,121.34L494.9,118.72 M499.9,121.63L499.9,118.24 M500.4,120.89L500.4,118.07 M501.9,119.97L501.9,117.15 M509.4,119.48L509.4,115.19 M511.9,119.87L511.9,116.26" fill="none" stroke="#8cc0ea" stroke-width="0.75"/>
<path d="M317.9,69.4L317.9,68.6 M323.4,81.74L323.4,80.18 M325.9,84.36L325.9,82.92 M327.4,85.78L327.4,84.06 M328.4,86.55L328.4,85.42 M331.9,89.26L331.9,88.18 M337.9,92.65L337.9,90.54 M342.9,94.59L342.9,93.01 M345.4,96.48L345.4,95.02 M355.4,99.34L355.4,97.27 M363.9,101.82L363.9,99.16 M364.4,102.11L364.4,100.56 M378.9,106.1L378.9,103.24 M379.9,106.01L379.9,103.93 M381.4,105.74L381.4,103.31 M391.4,108.76L391.4,105.72 M392.4,108.6L392.4,106.28 M395.4,107.82L395.4,105.57 M398.9,108.23L398.9,105.41 M400.4,109.85L400.4,106.96 M403.4,109.27L403.4,106.91 M407.4,110.89L407.4,108.28 M411.4,110.89L411.4,108 M416.4,112.07L416.4,109.43 M417.4,112.64L417.4,109.79 M421.4,112.76L421.4,109.35 M427.4,115.26L427.4,112.69 M429.4,114.84L429.4,111.72 M435.4,114.54L435.4,111.84 M440.9,115.72L440.9,112.05 M453.9,116.09L453.9,113.56 M454.4,117.3L454.4,113.92 M465.9,117.59L465.9,114.98 M466.9,117.7L466.9,114.48 M471.4,119.01L471.4,115.82 M496.4,121.2L496.4,118.13 M500.9,119.41L500.9,116.98 M503.9,119.94L503.9,115.86 M504.9,121.94L504.9,117.84 M506.4,119.62L506.4,116.29 M508.9,119.89L508.9,116.06 M513.9,120.27L513.9,116.72 M523.4,120.67L523.4,117.48" fill="none" stroke="#a5cdef" stroke-width="0.75"/>
<path d="M317.4,67.36L317.4,66.58 M318.4,71.83L318.4,70.98 M320.4,76.69L320.4,75.72 M326.9,85.5L326.9,84.26 M331.4,89.4L331.4,88.13 M339.4,93.2L339.4,91.66 M348.4,97.68L348.4,95.97 M349.4,98.41L349.4,96.13 M352.9,99.29L352.9,97.49 M355.9,100.37L355.9,98.39 M368.9,102.66L368.9,100.95 M370.4,102.7L370.4,100.67 M370.9,102.7L370.9,100.3 M373.4,103.09L373.4,100.92 M382.9,106.61L382.9,104.17 M383.9,105.92L383.9,103.28 M387.4,107.13L387.4,105.42 M393.4,109.43L393.4,106.36 M394.9,108.56L394.9,106.15 M399.4,108.67L399.4,106.54 M407.9,111.54L407.9,109.47 M409.9,111.29L409.9,108.7 M416.9,112.44L416.9,110.64 M425.9,112.9L425.9,109.48 M426.4,113.45L426.4,110.96 M428.9,114.94L428.9,112.27 M429.9,114.63L429.9,111.46 M430.9,113.89L430.9,111.89 M431.4,114.48L431.4,112.52 M444.9,115.65L444.9,112.43 M448.4,115.93L448.4,113.78 M458.9,116.83L458.9,113.24 M459.4,117.28L459.4,114.4 M467.9,119.11L467.9,115.21 M468.4,118.53L468.4,116 M469.9,119.58L469.9,117.4 M470.9,118.42L470.9,115.13 M472.4,119.73L472.4,117.15 M474.9,120.3L474.9,118.1 M483.4,120.47L483.4,118.22 M485.4,119.1L485.4,115.12 M487.4,120.27L487.4,118.07 M491.9,120.95L491.9,116.91 M505.9,120L505.9,116.19 M510.9,121.4L510.9,118.91 M519.9,120.96L519.9,118.18 M522.4,121.32L522.4,118.6" fill="none" stroke="#79b5e6" stroke-width="0.75"/>
<path d="M326.9,88.55L326.9,93.94 M331.4,92.76L331.4,98.26 M332.9,93.74L332.9,99.96 M334.9,94.31L334.9,101.6 M335.4,94.9L335.4,102.89 M337.4,95.94L337.4,102.74 M342.4,99.46L342.4,107.15 M347.4,101.66L347.4,107.97 M347.9,101.17L347.9,109.35 M350.9,102.96L350.9,111.92 M352.4,103.25L352.4,110.1 M355.4,104.53L355.4,111.73 M365.4,107.17L365.4,117.96 M366.9,107.25L366.9,119.25 M367.9,107.47L367.9,116.88 M368.4,107.99L368.4,117.7 M369.4,108.46L369.4,120.05 M369.9,108.08L369.9,118.92 M371.4,108.85L371.4,119.71 M373.9,109.37L373.9,119.85 M374.4,110.02L374.4,121.23 M374.9,110.08L374.9,121.76 M376.4,110.18L376.4,120.12 M380.4,110.61L380.4,122.96 M388.4,113.38L388.4,123.71 M389.9,113.41L389.9,124.97 M391.9,113.7L391.9,123.61 M392.9,113.26L392.9,124.01 M394.9,114.65L394.9,126.37 M396.4,115.15L396.4,127.64 M405.9,116.95L405.9,129.41 M409.9,117.08L409.9,129.89 M411.9,118.4L411.9,130.13 M412.4,117.72L412.4,130.96 M416.9,118.61L416.9,129.77 M423.4,120.26L423.4,130.86 M426.9,120.62L426.9,134.83 M427.4,121.14L427.4,132.96 M430.9,121.25L430.9,135.5 M436.4,122.22L436.4,135.66 M440.9,122.9L440.9,135.85 M448.4,123.57L448.4,135.18 M448.9,123.72L448.9,137.9 M450.4,123.62L450.4,137.3 M453.9,124.06L453.9,138.57 M454.9,123.68L454.9,136.78 M455.4,124.32L455.4,137.02 M456.4,124.6L456.4,137.1 M458.9,125.19L458.9,137.81 M459.9,124.34L459.9,139.47 M465.4,124.92L465.4,138.43 M468.4,125.31L468.4,137.83 M470.4,125.16L470.4,138.6 M474.4,126.47L474.4,139.8 M474.9,125.78L474.9,141.42 M478.9,126.83L478.9,141.86 M489.9,127.26L489.9,142.24 M490.9,127.53L490.9,142.49 M491.9,127.29L491.9,141.1 M492.4,127.19L492.4,142.03 M493.4,127.03L493.4,139.88 M500.4,127.95L500.4,141.56 M502.9,127.84L502.9,141.79 M506.9,128.66L506.9,142.22 M507.4,128.22L507.4,142.6 M508.4,128.31L508.4,141.59 M512.9,128.53L512.9,141.62 M515.9,128.68L515.9,141.29 M516.4,128.96L516.4,143.04 M516.9,128.45L516.9,141.2 M522.9,129.13L522.9,143.31 M523.9,129.51L523.9,143.28 M526.9,128.9L526.9,143.57 M527.9,128.74L527.9,144.28" fill="none" stroke="#f7c53a" stroke-width="0.75" stroke-opacity="0.9"/>
<path d="M316.9,60.5L316.9,61.44 M317.4,69.84L317.4,71.56 M320.4,79.55L320.4,83.17 M321.9,81.99L321.9,86.7 M322.9,83.83L322.9,88.01 M325.9,87.75L325.9,92.21 M331.9,92.74L331.9,99.53 M333.9,94.83L333.9,101.1 M334.4,94.53L334.4,100.51 M335.9,95.51L335.9,102.71 M336.4,96.2L336.4,102.7 M338.9,97.09L338.9,105.17 M340.4,97.42L340.4,105.84 M340.9,98.16L340.9,105.13 M341.9,98.47L341.9,105.69 M343.9,99.61L343.9,107.14 M346.9,101.59L346.9,108.39 M351.9,103.29L351.9,110.4 M354.9,103.94L354.9,113.77 M355.9,104.76L355.9,114.17 M357.4,104.34L357.4,114.13 M357.9,104.86L357.9,112.92 M359.9,105.07L359.9,115.96 M360.4,105.38L360.4,114.84 M360.9,105.55L360.9,113.94 M362.4,105.96L362.4,115.63 M363.4,106.83L363.4,117.17 M365.9,107.04L365.9,115.92 M378.9,110.33L378.9,120.87 M379.4,111.28L379.4,121.32 M381.4,111.29L381.4,123.21 M390.4,113.06L390.4,123.27 M391.4,113.89L391.4,125.14 M393.9,113.6L393.9,125.38 M395.4,114.48L395.4,126.75 M399.4,114.69L399.4,127.89 M401.9,116.16L401.9,126 M402.4,115.62L402.4,126.35 M402.9,116.36L402.9,127.8 M403.9,116.16L403.9,127.16 M406.9,117.17L406.9,129.48 M408.4,117.3L408.4,128.98 M410.4,117.01L410.4,127.9 M410.9,117.73L410.9,130.5 M412.9,118.3L412.9,130.39 M415.4,119.03L415.4,130.67 M416.4,118.75L416.4,131.34 M423.9,119.79L423.9,133.68 M424.4,120.59L424.4,132.66 M427.9,120.63L427.9,134.51 M429.4,121.36L429.4,134.72 M429.9,120.77L429.9,133.88 M430.4,121.07L430.4,133.5 M431.9,121.24L431.9,135.67 M432.4,121.76L432.4,134.63 M433.9,121.87L433.9,133.39 M437.4,121.66L437.4,134.68 M438.4,122.43L438.4,133.6 M441.9,122.38L441.9,134.32 M443.4,122.69L443.4,134.37 M443.9,122.39L443.9,137.27 M444.9,123.02L444.9,137.06 M445.9,122.66L445.9,136.83 M446.9,123.3L446.9,136.06 M447.4,123.54L447.4,137.1 M449.4,123.97L449.4,136.05 M451.4,123.43L451.4,139.03 M451.9,124.23L451.9,136.95 M463.9,124.71L463.9,138.19 M466.4,125.9L466.4,140.42 M466.9,125.09L466.9,138.74 M467.4,126.05L467.4,138.31 M469.4,125.74L469.4,139.06 M471.9,125.3L471.9,141.18 M475.4,126.71L475.4,138.96 M477.9,126.52L477.9,141.43 M482.9,126.59L482.9,141.37 M485.4,126.87L485.4,140.46 M487.4,126.8L487.4,139.99 M487.9,127.47L487.9,141.32 M493.9,127.39L493.9,139.55 M494.9,127.87L494.9,142.25 M495.4,127.93L495.4,142.53 M497.4,127.31L497.4,142.83 M501.9,127.46L501.9,142.04 M503.9,128.24L503.9,143.13 M504.4,127.6L504.4,143.32 M505.4,127.64L505.4,141.07 M505.9,127.64L505.9,143.35 M507.9,128.61L507.9,143.68 M511.4,128.22L511.4,141.93 M513.4,128.54L513.4,141.78 M513.9,128.54L513.9,143.39 M514.9,128.2L514.9,143.35 M518.4,129.07L518.4,141.12 M520.4,128.98L520.4,143.77 M526.4,128.92L526.4,142.97" fill="none" stroke="#f8cc4a" stroke-width="0.75" stroke-opacity="0.9"/>
<path d="M324.9,86.16L324.9,91.37 M325.4,87.29L325.4,91.34 M326.4,88.81L326.4,93.34 M328.4,89.94L328.4,95.55 M332.4,92.94L332.4,99.78 M339.9,97.83L339.9,105.7 M341.4,98.87L341.4,106.79 M342.9,99.34L342.9,107.55 M344.4,99.65L344.4,107.36 M345.4,100.6L345.4,107.28 M346.4,101.24L346.4,107.66 M348.4,102.44L348.4,108.75 M348.9,102.64L348.9,110.66 M353.4,103.14L353.4,110.39 M356.9,104.55L356.9,113.9 M358.4,104.67L358.4,113.89 M358.9,105.6L358.9,113.75 M361.9,106.62L361.9,116.7 M364.9,107.38L364.9,116.94 M371.9,108.55L371.9,118.93 M372.4,109.06L372.4,120.88 M373.4,109.4L373.4,119.67 M377.4,110.35L377.4,122.6 M381.9,111.51L381.9,121.35 M384.4,111.76L384.4,122.36 M386.9,111.93L386.9,125.45 M387.4,113.12L387.4,123.95 M395.9,114.1L395.9,125.7 M397.9,115.36L397.9,128.28 M399.9,115.94L399.9,126.14 M400.9,115.49L400.9,129.13 M401.4,115.65L401.4,127.19 M407.4,117.31L407.4,130.37 M408.9,117.09L408.9,128.06 M413.4,117.94L413.4,128.54 M415.9,118.98L415.9,131.46 M417.9,118.53L417.9,131.86 M419.9,119.08L419.9,130.23 M420.4,119.06L420.4,130.94 M420.9,119.6L420.9,131.63 M422.4,120.13L422.4,132.11 M422.9,120.4L422.9,132.72 M424.9,119.81L424.9,132.04 M425.4,120.67L425.4,134.26 M428.9,121.06L428.9,131.87 M433.4,121.42L433.4,133.42 M439.4,121.87L439.4,134.34 M439.9,121.81L439.9,136.34 M442.9,122.51L442.9,136.34 M445.4,122.64L445.4,136.84 M449.9,123.99L449.9,136.35 M452.4,124.23L452.4,136.11 M452.9,124.55L452.9,137.64 M454.4,123.81L454.4,137.01 M456.9,124.13L456.9,139.48 M460.4,124.63L460.4,139.54 M462.4,124.96L462.4,136.77 M463.4,125.42L463.4,137.57 M464.9,124.88L464.9,140.06 M465.9,125.2L465.9,139.39 M467.9,125.48L467.9,140.12 M470.9,125.78L470.9,138.66 M472.9,125.4L472.9,140.37 M475.9,125.91L475.9,141.44 M479.4,126.72L479.4,138.54 M481.4,126.79L481.4,140.43 M485.9,127.14L485.9,139.43 M486.4,127.32L486.4,140.8 M486.9,127.09L486.9,139.9 M494.4,127.64L494.4,139.73 M495.9,128.1L495.9,139.67 M498.4,128.18L498.4,140.35 M501.4,127.5L501.4,140.67 M506.4,128.15L506.4,143.77 M508.9,128.78L508.9,141.77 M509.4,128.06L509.4,142.29 M518.9,128.33L518.9,143.45 M519.4,129.28L519.4,141.77 M522.4,129.36L522.4,143.97 M525.4,128.84L525.4,142.82" fill="none" stroke="#f9d466" stroke-width="0.75" stroke-opacity="0.9"/>
<path d="M317.9,72.21L317.9,74.22 M318.4,73.92L318.4,76.45 M318.9,76.23L318.9,78.56 M322.4,82.64L322.4,86.76 M323.9,85.73L323.9,88.94 M324.4,85.69L324.4,90.34 M327.4,89.68L327.4,94.41 M327.9,89.36L327.9,95.03 M328.9,90.86L328.9,95.63 M329.4,90.48L329.4,96.27 M330.9,91.68L330.9,97.69 M333.4,93.81L333.4,101.02 M336.9,96.39L336.9,102.52 M337.9,96.87L337.9,103.56 M338.4,97.54L338.4,103.83 M339.4,97.36L339.4,104.59 M343.4,99.56L343.4,107.66 M349.4,102.83L349.4,109.55 M349.9,102.65L349.9,109.87 M351.4,103.08L351.4,112.27 M352.9,103.69L352.9,110.29 M353.9,103.84L353.9,111.92 M354.4,103.67L354.4,111.95 M356.4,104.96L356.4,114.7 M364.4,106.53L364.4,116.27 M366.4,107.14L366.4,118.95 M368.9,108.23L368.9,119.76 M370.9,109.13L370.9,120.39 M375.9,109.9L375.9,119.78 M376.9,110.65L376.9,121.29 M379.9,110.96L379.9,120.9 M382.4,111.78L382.4,122.62 M383.9,111.68L383.9,123.36 M384.9,112.35L384.9,121.49 M386.4,112.04L386.4,125.32 M387.9,112.95L387.9,124.16 M390.9,113.99L390.9,126.07 M394.4,114.71L394.4,124.32 M396.9,114.38L396.9,124.76 M398.4,115.6L398.4,127.24 M400.4,115.35L400.4,127.49 M404.4,116.43L404.4,130.02 M406.4,116.51L406.4,128.92 M407.9,117.43L407.9,128.24 M409.4,117.6L409.4,127.63 M413.9,118.48L413.9,128.82 M414.9,118.43L414.9,129.95 M417.4,118.87L417.4,131.73 M419.4,119.82L419.4,130.27 M421.4,120.18L421.4,131.83 M421.9,119.23L421.9,132.28 M425.9,120.85L425.9,133.94 M426.4,120.41L426.4,134.55 M434.9,121.38L434.9,135.37 M435.4,121.86L435.4,136.18 M436.9,122L436.9,136.62 M440.4,122.3L440.4,135.67 M442.4,122.97L442.4,135.18 M444.4,123.14L444.4,136.8 M446.4,123.06L446.4,137.39 M450.9,124.25L450.9,137.8 M457.9,124.04L457.9,137.49 M458.4,124.75L458.4,136.64 M469.9,125.15L469.9,140.12 M471.4,125.71L471.4,139.05 M472.4,125.58L472.4,139.52 M473.4,125.55L473.4,139.55 M476.9,126.54L476.9,141.26 M477.4,126.63L477.4,138.72 M479.9,126.73L479.9,139.99 M480.4,126.86L480.4,138.46 M480.9,126.9L480.9,140.75 M481.9,126.41L481.9,141.33 M483.4,127.17L483.4,139.32 M483.9,127.25L483.9,140.04 M484.9,126.62L484.9,139.8 M488.4,126.53L488.4,140.41 M490.4,126.67L490.4,140.41 M491.4,127.17L491.4,141.81 M492.9,127.13L492.9,140.47 M496.9,127.27L496.9,140.83 M497.9,127.59L497.9,141.15 M499.4,127.38L499.4,140.05 M499.9,127.7L499.9,142.08 M502.4,128.44L502.4,142.97 M503.4,127.55L503.4,140.72 M510.9,128.58L510.9,142.12 M511.9,128.84L511.9,143.7 M512.4,127.96L512.4,143.86 M514.4,129.05L514.4,140.87 M515.4,128.01L515.4,141.81 M517.4,129.04L517.4,142.18 M517.9,128.48L517.9,141.63 M519.9,128.2L519.9,141.3 M520.9,128.68L520.9,141.28 M521.4,128.86L521.4,144 M524.4,129.55L524.4,143.69 M525.9,129.07L525.9,144.45 M527.4,129.64L527.4,142.04" fill="none" stroke="#f6c232" stroke-width="0.75" stroke-opacity="0.9"/>
<path d="M319.4,77.7L319.4,80.68 M319.9,78.21L319.9,81.86 M320.9,81.24L320.9,84.39 M321.4,82.08L321.4,85.18 M323.4,84.2L323.4,88.45 M329.9,91.81L329.9,97.71 M330.4,92.05L330.4,98.19 M344.9,100.11L344.9,106.45 M345.9,100.72L345.9,108.3 M350.4,102.03L350.4,111.65 M359.4,104.97L359.4,114.58 M361.4,105.88L361.4,115.98 M362.9,105.98L362.9,115.23 M363.9,106.13L363.9,115.55 M367.4,107.66L367.4,117.99 M370.4,108.15L370.4,118.1 M372.9,108.58L372.9,121.04 M375.4,110.25L375.4,120.96 M377.9,110.33L377.9,120.5 M378.4,110.47L378.4,122.15 M380.9,111.34L380.9,121.59 M382.9,111.5L382.9,121.28 M383.4,112.27L383.4,122.83 M385.4,111.74L385.4,122.69 M385.9,112.07L385.9,125.04 M388.9,113.13L388.9,124.38 M389.4,112.99L389.4,124.47 M392.4,113.13L392.4,123.56 M393.4,114.39L393.4,125.81 M397.4,114.76L397.4,128.25 M398.9,115.37L398.9,125.46 M403.4,116.26L403.4,127.69 M404.9,116.12L404.9,127.88 M405.4,116.54L405.4,127.11 M411.4,117.77L411.4,128.78 M414.4,118L414.4,130.82 M418.4,119.31L418.4,129.97 M418.9,119.53L418.9,130.8 M428.4,121.14L428.4,131.58 M431.4,121.38L431.4,133.35 M432.9,120.92L432.9,134.06 M434.4,121.16L434.4,133.66 M435.9,121.41L435.9,135.87 M437.9,121.69L437.9,136.13 M438.9,122.73L438.9,135.06 M441.4,122.54L441.4,134.66 M447.9,123.27L447.9,138.54 M453.4,123.7L453.4,136.02 M455.9,123.87L455.9,138.22 M457.4,124.51L457.4,136.33 M459.4,124.18L459.4,139.96 M460.9,124.65L460.9,138.73 M461.4,124.67L461.4,139.41 M461.9,124.68L461.9,138.3 M462.9,125.56L462.9,140.29 M464.4,125.51L464.4,140 M468.9,125.38L468.9,138.28 M473.9,126.31L473.9,138.39 M476.4,126.29L476.4,140.42 M478.4,126.11L478.4,141.58 M482.4,126.83L482.4,139.87 M484.4,126.68L484.4,140.12 M488.9,126.99L488.9,140.17 M489.4,126.99L489.4,140.41 M496.4,127.97L496.4,140.6 M498.9,127.17L498.9,139.92 M500.9,127.23L500.9,141.82 M504.9,127.79L504.9,140.9 M509.9,128.24L509.9,143.18 M510.4,127.76L510.4,142.27 M521.9,129.29L521.9,143.81 M523.4,128.66L523.4,144.24 M524.9,129.4L524.9,143.67" fill="none" stroke="#fad870" stroke-width="0.75" stroke-opacity="0.9"/>
<path d="M318.4,76.25L318.4,77.43 M319.4,80.48L319.4,81.21 M328.4,95.35L328.4,97.45 M328.9,95.43L328.9,96.84 M331.4,98.06L331.4,100.62 M332.4,99.58L332.4,100.97 M332.9,99.76L332.9,102.24 M333.4,100.82L333.4,103.02 M335.4,102.69L335.4,104.08 M337.4,102.54L337.4,104.27 M343.4,107.46L343.4,109.83 M343.9,106.94L343.9,109.72 M347.4,107.77L347.4,109.74 M349.4,109.35L349.4,110.43 M362.9,115.03L362.9,119.55 M363.9,115.35L363.9,118.5 M371.4,119.51L371.4,124.04 M375.4,120.76L375.4,124.81 M375.9,119.58L375.9,122.17 M377.4,122.4L377.4,127.06 M387.9,123.96L387.9,128.39 M388.4,123.51L388.4,127.03 M391.9,123.41L391.9,128.5 M393.9,125.18L393.9,126.86 M401.4,126.99L401.4,130.17 M406.9,129.28L406.9,131.35 M419.9,130.03L419.9,132.24 M420.4,130.74L420.4,133.6 M420.9,131.43L420.9,133.55 M422.4,131.91L422.4,137.98 M425.4,134.06L425.4,136.65 M428.9,131.67L428.9,138.13 M429.4,134.52L429.4,139.48 M434.9,135.17L434.9,142.37 M438.4,133.4L438.4,140.53 M441.4,134.46L441.4,140.1 M455.4,136.82L455.4,146.66 M462.9,140.09L462.9,146.83 M465.4,138.23L465.4,141.06 M466.4,140.22L466.4,144.73 M470.4,138.4L470.4,141.88 M471.9,140.98L471.9,143.66 M472.9,140.17L472.9,143.58 M478.9,141.66L478.9,152.17 M480.9,140.55L480.9,146.53 M483.4,139.12L483.4,144.51 M488.4,140.21L488.4,149.34 M491.4,141.61L491.4,148.29 M494.4,139.53L494.4,147.34 M495.9,139.47L495.9,145.06 M498.4,140.15L498.4,149.82 M500.4,141.36L500.4,151.93 M504.4,143.12L504.4,149.04 M506.4,143.57L506.4,153.75 M511.4,141.73L511.4,147.84 M512.4,143.66L512.4,149.72 M524.4,143.49L524.4,148.79 M525.4,142.62L525.4,155.67" fill="none" stroke="#fbdc80" stroke-width="0.75" stroke-opacity="0.9"/>
<path d="M319.9,81.66L319.9,83.19 M322.4,86.56L322.4,87.78 M326.4,93.14L326.4,94.25 M338.4,103.63L338.4,104.8 M342.4,106.95L342.4,110.01 M345.9,108.1L345.9,109.58 M350.9,111.72L350.9,114.74 M351.4,112.07L351.4,114.25 M352.9,110.09L352.9,112.14 M354.4,111.75L354.4,115.85 M356.9,113.7L356.9,116.43 M357.9,112.72L357.9,114.75 M359.4,114.38L359.4,117.5 M361.4,115.78L361.4,118.55 M362.4,115.43L362.4,118.53 M363.4,116.97L363.4,120.35 M367.9,116.68L367.9,118.57 M368.4,117.5L368.4,119.78 M369.9,118.72L369.9,122.2 M373.4,119.47L373.4,121.05 M376.9,121.09L376.9,126.38 M379.9,120.7L379.9,123.43 M382.4,122.42L382.4,125.77 M385.4,122.49L385.4,124.35 M388.9,124.18L388.9,130.52 M391.4,124.94L391.4,128.56 M393.4,125.61L393.4,130.15 M397.4,128.05L397.4,129.86 M399.4,127.69L399.4,131.26 M404.9,127.68L404.9,134.38 M409.9,129.69L409.9,135.68 M414.9,129.75L414.9,134.18 M415.4,130.47L415.4,132.51 M415.9,131.26L415.9,139.12 M417.4,131.53L417.4,133.35 M418.9,130.6L418.9,136.74 M426.9,134.63L426.9,137.63 M433.4,133.22L433.4,141.99 M437.9,135.93L437.9,138.28 M440.9,135.65L440.9,139.56 M447.9,138.34L447.9,148.03 M449.9,136.15L449.9,140.99 M450.9,137.6L450.9,146.02 M452.9,137.44L452.9,144.18 M454.4,136.81L454.4,143.94 M454.9,136.58L454.9,145.85 M455.9,138.02L455.9,140.25 M459.9,139.27L459.9,145.81 M460.4,139.34L460.4,146.94 M462.4,136.57L462.4,142.13 M464.4,139.8L464.4,145.75 M469.9,139.92L469.9,150.75 M470.9,138.46L470.9,144.79 M473.4,139.35L473.4,147.67 M474.4,139.6L474.4,149.42 M474.9,141.22L474.9,143.74 M481.4,140.23L481.4,150.99 M482.4,139.67L482.4,142.73 M483.9,139.84L483.9,148.7 M485.9,139.23L485.9,147.44 M486.4,140.6L486.4,143.11 M489.4,140.21L489.4,151.85 M495.4,142.33L495.4,149.87 M497.4,142.63L497.4,150.41 M499.4,139.85L499.4,150.27 M499.9,141.88L499.9,145.08 M503.4,140.52L503.4,151.81 M509.9,142.98L509.9,151.73 M514.9,143.15L514.9,147.51 M515.9,141.09L515.9,146.29 M516.9,141L516.9,152.25 M523.4,144.04L523.4,156.22 M527.9,144.08L527.9,151.19" fill="none" stroke="#fce49c" stroke-width="0.75" stroke-opacity="0.9"/>
<path d="M317.9,74.02L317.9,74.85 M318.9,78.36L318.9,79.72 M327.4,94.21L327.4,96.4 M336.9,102.32L336.9,105.27 M339.9,105.5L339.9,108.55 M344.9,106.25L344.9,109.34 M351.9,110.2L351.9,114.23 M353.9,111.72L353.9,114.05 M358.9,113.55L358.9,116.28 M360.9,113.74L360.9,115.39 M364.9,116.74L364.9,118.05 M372.9,120.84L372.9,123.19 M376.4,119.92L376.4,121.62 M381.4,123.01L381.4,125.05 M383.4,122.63L383.4,128.21 M384.9,121.29L384.9,123.61 M389.9,124.77L389.9,128.12 M390.4,123.07L390.4,128.09 M392.4,123.36L392.4,126.94 M398.9,125.26L398.9,129.03 M399.9,125.94L399.9,128.17 M402.9,127.6L402.9,130.46 M407.4,130.17L407.4,132.36 M410.4,127.7L410.4,130.35 M416.9,129.57L416.9,132.22 M421.4,131.63L421.4,139.84 M424.4,132.46L424.4,139.25 M424.9,131.84L424.9,134.62 M428.4,131.38L428.4,133.78 M429.9,133.68L429.9,139.16 M431.9,135.47L431.9,141.11 M439.4,134.14L439.4,142.02 M439.9,136.14L439.9,141.92 M440.4,135.47L440.4,138.24 M445.4,136.64L445.4,145.46 M446.4,137.19L446.4,141.67 M447.4,136.9L447.4,139.49 M448.9,137.7L448.9,145.91 M458.9,137.61L458.9,144.4 M461.9,138.1L461.9,141.44 M482.9,141.17L482.9,145.8 M487.9,141.12L487.9,149.35 M502.4,142.77L502.4,152.36 M503.9,142.93L503.9,148.81 M506.9,142.02L506.9,153.35 M508.9,141.57L508.9,147.82 M509.4,142.09L509.4,152.97 M511.9,143.5L511.9,147.21 M512.9,141.42L512.9,153.89 M519.9,141.1L519.9,153.45 M520.9,141.08L520.9,150.05 M521.4,143.8L521.4,156.18 M522.9,143.11L522.9,153.92" fill="none" stroke="#fad56a" stroke-width="0.75" stroke-opacity="0.9"/>
<path d="M317.4,71.36L317.4,72.48 M320.4,82.97L320.4,84.48 M321.9,86.5L321.9,87.96 M324.4,90.14L324.4,92.28 M325.9,92.01L325.9,93.67 M333.9,100.9L333.9,102.84 M340.9,104.93L340.9,107.35 M346.9,108.19L346.9,110.23 M347.9,109.15L347.9,111.86 M348.4,108.55L348.4,111.83 M361.9,116.5L361.9,117.79 M364.4,116.07L364.4,120.76 M365.4,117.76L365.4,122.73 M368.9,119.56L368.9,121.2 M369.4,119.85L369.4,123.12 M370.4,117.9L370.4,119.83 M373.9,119.65L373.9,125.15 M377.9,120.3L377.9,122.54 M378.4,121.95L378.4,125.43 M378.9,120.67L378.9,126.46 M380.9,121.39L380.9,124.41 M384.4,122.16L384.4,126.71 M387.4,123.75L387.4,127.77 M392.9,123.81L392.9,129.35 M396.4,127.44L396.4,132.36 M397.9,128.08L397.9,131.31 M403.4,127.49L403.4,132 M407.9,128.04L407.9,134.73 M409.4,127.43L409.4,131.23 M411.4,128.58L411.4,134.38 M414.4,130.62L414.4,135.13 M432.9,133.86L432.9,138.34 M443.4,134.17L443.4,142.74 M446.9,135.86L446.9,144.62 M451.4,138.83L451.4,144.13 M453.4,135.82L453.4,140.8 M460.9,138.53L460.9,147.02 M465.9,139.19L465.9,144.92 M466.9,138.54L466.9,146.25 M468.4,137.63L468.4,147.34 M475.4,138.76L475.4,148.06 M476.4,140.22L476.4,151.27 M476.9,141.06L476.9,146.84 M480.4,138.26L480.4,142.8 M484.4,139.92L484.4,148.44 M487.4,139.79L487.4,143.14 M490.4,140.21L490.4,147.39 M490.9,142.29L490.9,153.6 M496.4,140.4L496.4,149.53 M501.9,141.84L501.9,145.42 M505.4,140.87L505.4,144.69 M507.4,142.4L507.4,147.82 M521.9,143.61L521.9,155.17 M523.9,143.08L523.9,154.39 M526.4,142.77L526.4,154.72" fill="none" stroke="#fdebb5" stroke-width="0.75" stroke-opacity="0.9"/>
<path d="M316.3,25C316.33,28.33 316.42,39.5 316.5,45C316.58,50.5 316.68,53.83 316.8,58C316.92,62.17 316.95,67.17 317.2,70C317.45,72.83 317.93,73.37 318.3,75C318.67,76.63 318.95,78.38 319.4,79.8C319.85,81.22 320.27,82.22 321,83.5C321.73,84.78 322.88,86.17 323.8,87.5C324.72,88.83 325.4,90.2 326.5,91.5C327.6,92.8 328.65,93.87 330.4,95.3C332.15,96.73 334.07,98.48 337,100.1C339.93,101.72 344.32,103.47 348,105C351.68,106.53 355.42,107.92 359.1,109.3C362.78,110.68 366.43,112.1 370.1,113.3C373.77,114.5 377.78,115.55 381.1,116.5C384.42,117.45 386.85,118.15 390,119C393.15,119.85 396.33,120.73 400,121.6C403.67,122.47 408.17,123.37 412,124.2C415.83,125.03 419.32,125.83 423,126.6C426.68,127.37 430.43,128.12 434.1,128.8C437.77,129.48 441.33,130.13 445,130.7C448.67,131.27 451.93,131.72 456.1,132.2C460.27,132.68 465.68,133.18 470,133.6C474.32,134.02 478,134.37 482,134.7C486,135.03 490.32,135.32 494,135.6C497.68,135.88 500.43,136.17 504.1,136.4C507.77,136.63 512.02,136.82 516,137C519.98,137.18 526,137.42 528,137.5" fill="none" stroke="#f57e26" stroke-width="1.5"/>
<line x1="316.6" y1="17" x2="316.6" y2="24.5" stroke="#f7943f" stroke-width="1.8"/>
<path d="M316.5,23.4C316.5,26.17 316.48,35.15 316.5,40C316.52,44.85 316.55,49.17 316.6,52.5C316.65,55.83 316.7,57.5 316.8,60C316.9,62.5 316.97,65.42 317.2,67.5C317.43,69.58 317.83,71.03 318.2,72.5C318.57,73.97 318.93,75.05 319.4,76.3C319.87,77.55 320.27,78.68 321,80C321.73,81.32 322.88,82.95 323.8,84.2C324.72,85.45 325.4,86.38 326.5,87.5C327.6,88.62 328.65,89.6 330.4,90.9C332.15,92.2 334.07,93.65 337,95.3C339.93,96.95 344.32,99.3 348,100.8C351.68,102.3 355.42,103.2 359.1,104.3C362.78,105.4 366.43,106.42 370.1,107.4C373.77,108.38 377.78,109.4 381.1,110.2C384.42,111 386.85,111.5 390,112.2C393.15,112.9 396.33,113.62 400,114.4C403.67,115.18 408.17,116.15 412,116.9C415.83,117.65 419.32,118.28 423,118.9C426.68,119.52 430.43,120.07 434.1,120.6C437.77,121.13 441.33,121.63 445,122.1C448.67,122.57 451.93,122.97 456.1,123.4C460.27,123.83 465.68,124.32 470,124.7C474.32,125.08 478,125.42 482,125.7C486,125.98 490.32,126.18 494,126.4C497.68,126.62 500.43,126.8 504.1,127C507.77,127.2 512.02,127.4 516,127.6C519.98,127.8 526,128.1 528,128.2" fill="none" stroke="#14148c" stroke-width="1.7"/>
<line x1="312.3" y1="188" x2="315.2" y2="188" stroke="#555555" stroke-width="1"/>
<line x1="314.1" y1="166.66" x2="315.3" y2="166.66" stroke="#555555" stroke-width="1"/>
<line x1="312.3" y1="145.32" x2="315.2" y2="145.32" stroke="#555555" stroke-width="1"/>
<line x1="314.1" y1="123.99" x2="315.3" y2="123.99" stroke="#555555" stroke-width="1"/>
<line x1="312.3" y1="102.65" x2="315.2" y2="102.65" stroke="#555555" stroke-width="1"/>
<line x1="314.1" y1="81.31" x2="315.3" y2="81.31" stroke="#555555" stroke-width="1"/>
<line x1="312.3" y1="59.98" x2="315.2" y2="59.98" stroke="#555555" stroke-width="1"/>
<line x1="314.1" y1="38.64" x2="315.3" y2="38.64" stroke="#555555" stroke-width="1"/>
<line x1="312.3" y1="17.3" x2="315.2" y2="17.3" stroke="#555555" stroke-width="1"/>
<line x1="315.5" y1="188.2" x2="315.5" y2="191.2" stroke="#555555" stroke-width="1"/>
<line x1="336.78" y1="188.2" x2="336.78" y2="189.6" stroke="#555555" stroke-width="1"/>
<line x1="358.06" y1="188.2" x2="358.06" y2="191.2" stroke="#555555" stroke-width="1"/>
<line x1="379.34" y1="188.2" x2="379.34" y2="189.6" stroke="#555555" stroke-width="1"/>
<line x1="400.62" y1="188.2" x2="400.62" y2="191.2" stroke="#555555" stroke-width="1"/>
<line x1="421.9" y1="188.2" x2="421.9" y2="189.6" stroke="#555555" stroke-width="1"/>
<line x1="443.18" y1="188.2" x2="443.18" y2="191.2" stroke="#555555" stroke-width="1"/>
<line x1="464.46" y1="188.2" x2="464.46" y2="189.6" stroke="#555555" stroke-width="1"/>
<line x1="485.74" y1="188.2" x2="485.74" y2="191.2" stroke="#555555" stroke-width="1"/>
<line x1="507.02" y1="188.2" x2="507.02" y2="189.6" stroke="#555555" stroke-width="1"/>
<line x1="528.3" y1="188.2" x2="528.3" y2="191.2" stroke="#555555" stroke-width="1"/>
<text x="310.2" y="192.7" font-size="9" text-anchor="end" font-weight="normal" fill="#1a1a1a" stroke="#1a1a1a" stroke-width="0.22" stroke-linejoin="round" textLength="4.7" lengthAdjust="spacingAndGlyphs" >1</text>
<text x="313.2" y="150.02" font-size="9" text-anchor="end" font-weight="normal" fill="#1a1a1a" stroke="#1a1a1a" stroke-width="0.22" stroke-linejoin="round" textLength="9.4" lengthAdjust="spacingAndGlyphs" >10</text>
<text x="313.2" y="107.35" font-size="9" text-anchor="end" font-weight="normal" fill="#1a1a1a" stroke="#1a1a1a" stroke-width="0.22" stroke-linejoin="round" textLength="14.1" lengthAdjust="spacingAndGlyphs" >100</text>
<text x="313.2" y="64.68" font-size="9" text-anchor="end" font-weight="normal" fill="#1a1a1a" stroke="#1a1a1a" stroke-width="0.22" stroke-linejoin="round" textLength="18.8" lengthAdjust="spacingAndGlyphs" >1000</text>
<text x="313.2" y="22" font-size="9" text-anchor="end" font-weight="normal" fill="#1a1a1a" stroke="#1a1a1a" stroke-width="0.22" stroke-linejoin="round" textLength="23.5" lengthAdjust="spacingAndGlyphs" >10000</text>
<text x="317" y="202.4" font-size="8.8" text-anchor="middle" font-weight="normal" fill="#1a1a1a" stroke="#1a1a1a" stroke-width="0.45" stroke-linejoin="round" textLength="5.1" lengthAdjust="spacingAndGlyphs" >0</text>
<text x="359.56" y="202.4" font-size="8.8" text-anchor="middle" font-weight="normal" fill="#1a1a1a" stroke="#1a1a1a" stroke-width="0.45" stroke-linejoin="round" textLength="10.2" lengthAdjust="spacingAndGlyphs" >20</text>
<text x="402.12" y="202.4" font-size="8.8" text-anchor="middle" font-weight="normal" fill="#1a1a1a" stroke="#1a1a1a" stroke-width="0.45" stroke-linejoin="round" textLength="10.2" lengthAdjust="spacingAndGlyphs" >40</text>
<text x="444.68" y="202.4" font-size="8.8" text-anchor="middle" font-weight="normal" fill="#1a1a1a" stroke="#1a1a1a" stroke-width="0.45" stroke-linejoin="round" textLength="10.2" lengthAdjust="spacingAndGlyphs" >60</text>
<text x="487.24" y="202.4" font-size="8.8" text-anchor="middle" font-weight="normal" fill="#1a1a1a" stroke="#1a1a1a" stroke-width="0.45" stroke-linejoin="round" textLength="10.2" lengthAdjust="spacingAndGlyphs" >80</text>
<text x="529.8" y="202.4" font-size="8.8" text-anchor="middle" font-weight="normal" fill="#1a1a1a" stroke="#1a1a1a" stroke-width="0.45" stroke-linejoin="round" textLength="15.3" lengthAdjust="spacingAndGlyphs" >100</text>
<text x="428.3" y="217.3" font-size="11.5" text-anchor="middle" font-weight="normal" fill="#1a1a1a" stroke="#1a1a1a" stroke-width="0.6" stroke-linejoin="round" textLength="48.2" lengthAdjust="spacingAndGlyphs" >Time (ns)</text>
<text x="0" y="0" font-size="11.2" text-anchor="middle" fill="#1a1a1a" stroke="#1a1a1a" stroke-width="0.38" stroke-linejoin="round" textLength="90.5" lengthAdjust="spacingAndGlyphs" transform="translate(292,103.8) rotate(-90)">Intensity (counts)</text>
<text x="321" y="13.6" font-size="10.3" text-anchor="start" font-weight="bold" fill="#1a1a1a" stroke="#1a1a1a" stroke-width="0.25" stroke-linejoin="round" textLength="8.4" lengthAdjust="spacingAndGlyphs" >b)</text>
<line x1="372" y1="17.6" x2="528.3" y2="17.6" stroke="#666666" stroke-width="1.8"/>
<line x1="372" y1="35.1" x2="528.3" y2="35.1" stroke="#707070" stroke-width="1.1"/>
<line x1="372" y1="68.3" x2="528.3" y2="68.3" stroke="#666666" stroke-width="1.8"/>
<line x1="457" y1="17.6" x2="457" y2="68.3" stroke="#707070" stroke-width="1.1"/>
<text x="414.4" y="31.4" font-size="9.8" text-anchor="middle" font-weight="normal" fill="#1a1a1a" stroke="#1a1a1a" stroke-width="0.5" stroke-linejoin="round" textLength="33.6" lengthAdjust="spacingAndGlyphs" >Sample</text>
<text x="467.6" y="31.4" font-size="9.8" text-anchor="start" font-weight="normal" fill="#1a1a1a" stroke="#1a1a1a" stroke-width="0.5" stroke-linejoin="round" textLength="5.4" lengthAdjust="spacingAndGlyphs" >T</text>
<text x="471.6" y="33.9" font-size="6.6" text-anchor="start" font-weight="normal" fill="#1a1a1a" stroke="#1a1a1a" stroke-width="0.32" stroke-linejoin="round" textLength="26.5" lengthAdjust="spacingAndGlyphs" >average</text>
<text x="500" y="31.4" font-size="9.8" text-anchor="start" font-weight="normal" fill="#1a1a1a" stroke="#1a1a1a" stroke-width="0.5" stroke-linejoin="round" textLength="16.5" lengthAdjust="spacingAndGlyphs" >(ns)</text>
<line x1="380.5" y1="43.4" x2="400.5" y2="43.4" stroke="#14148c" stroke-width="1.6"/>
<line x1="380.5" y1="59.6" x2="400.5" y2="59.6" stroke="#f57e26" stroke-width="1.6"/>
<text x="404.9" y="47.4" font-size="9.8" text-anchor="start" font-weight="normal" fill="#1a1a1a" stroke="#1a1a1a" stroke-width="0.5" stroke-linejoin="round" textLength="34.8" lengthAdjust="spacingAndGlyphs" >ZnO&#8211;50</text>
<text x="404.9" y="63.6" font-size="9.8" text-anchor="start" font-weight="normal" fill="#1a1a1a" stroke="#1a1a1a" stroke-width="0.5" stroke-linejoin="round" textLength="41" lengthAdjust="spacingAndGlyphs" >ZnO&#8211;200</text>
<text x="492.4" y="47.4" font-size="9.8" text-anchor="middle" font-weight="normal" fill="#1a1a1a" stroke="#1a1a1a" stroke-width="0.5" stroke-linejoin="round" textLength="26.8" lengthAdjust="spacingAndGlyphs" >13250</text>
<text x="492.4" y="63.6" font-size="9.8" text-anchor="middle" font-weight="normal" fill="#1a1a1a" stroke="#1a1a1a" stroke-width="0.5" stroke-linejoin="round" textLength="26.8" lengthAdjust="spacingAndGlyphs" >15777</text>
<line x1="52.4" y1="232.7" x2="264.6" y2="232.7" stroke="#8c8c8c" stroke-width="1.3"/>
<line x1="264.6" y1="232.7" x2="264.6" y2="404.3" stroke="#8c8c8c" stroke-width="1.3"/>
<line x1="51.4" y1="404.5" x2="265.2" y2="404.5" stroke="#929292" stroke-width="1.7"/>
<line x1="52.5" y1="232.1" x2="52.5" y2="405.3" stroke="#969696" stroke-width="1.7"/>
<line x1="52.4" y1="404.4" x2="264.6" y2="404.4" stroke="#111111" stroke-width="1.5"/>
<path d="M52.4,404.07 L72.21,404.07 L72.21,291.84 L72.52,291.27 L72.84,290.84 L73.16,290.52 L73.48,290.28 L73.8,290.1 L74.12,289.96 L74.44,289.85 L74.76,289.76 L75.08,289.69 L75.4,289.63 L75.72,289.58 L76.04,289.54 L76.36,289.5 L76.68,289.47 L77,289.43 L77.32,289.4 L77.63,289.37 L77.95,289.35 L78.27,289.32 L78.59,289.29 L78.91,289.27 L79.23,289.24 L79.55,289.22 L79.87,289.19 L80.19,289.17 L80.51,289.14 L80.83,289.12 L81.15,289.09 L81.47,289.07 L81.79,289.04 L82.11,289.02 L82.43,288.99 L82.74,288.97 L83.06,288.94 L83.38,288.92 L83.7,288.89 L84.02,288.87 L84.34,288.84 L84.66,288.82 L84.98,288.79 L85.3,288.77 L85.62,288.74 L85.94,288.72 L86.26,288.69 L86.58,288.67 L86.9,288.65 L87.22,288.62 L87.54,288.6 L87.85,288.57 L88.17,288.55 L88.49,288.52 L88.81,288.5 L89.13,288.47 L89.45,288.45 L89.77,288.42 L90.09,288.4 L90.41,288.37 L90.73,288.35 L91.05,288.32 L91.37,288.3 L91.37,404.07 L110.79,404.07 L110.79,291.84 L111.11,291.27 L111.43,290.84 L111.75,290.52 L112.06,290.28 L112.38,290.1 L112.7,289.96 L113.02,289.85 L113.34,289.76 L113.66,289.69 L113.98,289.63 L114.3,289.58 L114.62,289.54 L114.94,289.5 L115.26,289.47 L115.58,289.43 L115.9,289.4 L116.22,289.37 L116.54,289.35 L116.86,289.32 L117.17,289.29 L117.49,289.27 L117.81,289.24 L118.13,289.22 L118.45,289.19 L118.77,289.17 L119.09,289.14 L119.41,289.12 L119.73,289.09 L120.05,289.07 L120.37,289.04 L120.69,289.02 L121.01,288.99 L121.33,288.97 L121.65,288.94 L121.97,288.92 L122.28,288.89 L122.6,288.87 L122.92,288.84 L123.24,288.82 L123.56,288.79 L123.88,288.77 L124.2,288.74 L124.52,288.72 L124.84,288.69 L125.16,288.67 L125.48,288.65 L125.8,288.62 L126.12,288.6 L126.44,288.57 L126.76,288.55 L127.08,288.52 L127.39,288.5 L127.71,288.47 L128.03,288.45 L128.35,288.42 L128.67,288.4 L128.99,288.37 L129.31,288.35 L129.63,288.32 L129.95,288.3 L129.95,404.07 L149.37,404.07 L149.37,291.84 L149.69,291.27 L150.01,290.84 L150.33,290.52 L150.65,290.28 L150.97,290.1 L151.29,289.96 L151.6,289.85 L151.92,289.76 L152.24,289.69 L152.56,289.63 L152.88,289.58 L153.2,289.54 L153.52,289.5 L153.84,289.47 L154.16,289.43 L154.48,289.4 L154.8,289.37 L155.12,289.35 L155.44,289.32 L155.76,289.29 L156.08,289.27 L156.4,289.24 L156.71,289.22 L157.03,289.19 L157.35,289.17 L157.67,289.14 L157.99,289.12 L158.31,289.09 L158.63,289.07 L158.95,289.04 L159.27,289.02 L159.59,288.99 L159.91,288.97 L160.23,288.94 L160.55,288.92 L160.87,288.89 L161.19,288.87 L161.51,288.84 L161.82,288.82 L162.14,288.79 L162.46,288.77 L162.78,288.74 L163.1,288.72 L163.42,288.69 L163.74,288.67 L164.06,288.65 L164.38,288.62 L164.7,288.6 L165.02,288.57 L165.34,288.55 L165.66,288.52 L165.98,288.5 L166.3,288.47 L166.62,288.45 L166.93,288.42 L167.25,288.4 L167.57,288.37 L167.89,288.35 L168.21,288.32 L168.53,288.3 L168.53,404.07 L187.95,404.07 L187.95,291.84 L188.27,291.27 L188.59,290.84 L188.91,290.52 L189.23,290.28 L189.55,290.1 L189.87,289.96 L190.19,289.85 L190.51,289.76 L190.83,289.69 L191.14,289.63 L191.46,289.58 L191.78,289.54 L192.1,289.5 L192.42,289.47 L192.74,289.43 L193.06,289.4 L193.38,289.37 L193.7,289.35 L194.02,289.32 L194.34,289.29 L194.66,289.27 L194.98,289.24 L195.3,289.22 L195.62,289.19 L195.94,289.17 L196.25,289.14 L196.57,289.12 L196.89,289.09 L197.21,289.07 L197.53,289.04 L197.85,289.02 L198.17,288.99 L198.49,288.97 L198.81,288.94 L199.13,288.92 L199.45,288.89 L199.77,288.87 L200.09,288.84 L200.41,288.82 L200.73,288.79 L201.05,288.77 L201.36,288.74 L201.68,288.72 L202,288.69 L202.32,288.67 L202.64,288.65 L202.96,288.62 L203.28,288.6 L203.6,288.57 L203.92,288.55 L204.24,288.52 L204.56,288.5 L204.88,288.47 L205.2,288.45 L205.52,288.42 L205.84,288.4 L206.15,288.37 L206.47,288.35 L206.79,288.32 L207.11,288.3 L207.11,404.07 L226.53,404.07 L226.53,291.84 L226.85,291.27 L227.17,290.84 L227.49,290.52 L227.81,290.28 L228.13,290.1 L228.45,289.96 L228.77,289.85 L229.09,289.76 L229.41,289.69 L229.73,289.63 L230.05,289.58 L230.37,289.54 L230.68,289.5 L231,289.47 L231.32,289.43 L231.64,289.4 L231.96,289.37 L232.28,289.35 L232.6,289.32 L232.92,289.29 L233.24,289.27 L233.56,289.24 L233.88,289.22 L234.2,289.19 L234.52,289.17 L234.84,289.14 L235.16,289.12 L235.48,289.09 L235.79,289.07 L236.11,289.04 L236.43,289.02 L236.75,288.99 L237.07,288.97 L237.39,288.94 L237.71,288.92 L238.03,288.89 L238.35,288.87 L238.67,288.84 L238.99,288.82 L239.31,288.79 L239.63,288.77 L239.95,288.74 L240.27,288.72 L240.58,288.69 L240.9,288.67 L241.22,288.65 L241.54,288.62 L241.86,288.6 L242.18,288.57 L242.5,288.55 L242.82,288.52 L243.14,288.5 L243.46,288.47 L243.78,288.45 L244.1,288.42 L244.42,288.4 L244.74,288.37 L245.06,288.35 L245.38,288.32 L245.69,288.3 L245.69,404.07 L264.6,404.07" fill="none" stroke="#f0dc14" stroke-width="1.45" stroke-linejoin="miter"/>
<path d="M52.4,404.07 L72.21,404.07 L72.21,295.51 L72.52,295.51 L72.84,295.51 L73.16,295.51 L73.48,295.51 L73.8,295.51 L74.12,295.51 L74.44,295.51 L74.76,295.51 L75.08,295.51 L75.4,295.51 L75.72,295.51 L76.04,295.51 L76.36,295.51 L76.68,295.51 L77,295.51 L77.32,295.51 L77.63,295.51 L77.95,295.51 L78.27,295.51 L78.59,295.51 L78.91,295.51 L79.23,295.51 L79.55,295.51 L79.87,295.51 L80.19,295.51 L80.51,295.51 L80.83,295.51 L81.15,295.51 L81.47,295.51 L81.79,295.51 L82.11,295.51 L82.43,295.51 L82.74,295.51 L83.06,295.51 L83.38,295.51 L83.7,295.51 L84.02,295.51 L84.34,295.51 L84.66,295.51 L84.98,295.51 L85.3,295.51 L85.62,295.51 L85.94,295.51 L86.26,295.51 L86.58,295.51 L86.9,295.51 L87.22,295.51 L87.54,295.51 L87.85,295.51 L88.17,295.51 L88.49,295.51 L88.81,295.51 L89.13,295.51 L89.45,295.51 L89.77,295.51 L90.09,295.51 L90.41,295.51 L90.73,295.51 L91.05,295.51 L91.37,295.51 L91.37,404.07 L110.79,404.07 L110.79,295.51 L111.11,295.51 L111.43,295.51 L111.75,295.51 L112.06,295.51 L112.38,295.51 L112.7,295.51 L113.02,295.51 L113.34,295.51 L113.66,295.51 L113.98,295.51 L114.3,295.51 L114.62,295.51 L114.94,295.51 L115.26,295.51 L115.58,295.51 L115.9,295.51 L116.22,295.51 L116.54,295.51 L116.86,295.51 L117.17,295.51 L117.49,295.51 L117.81,295.51 L118.13,295.51 L118.45,295.51 L118.77,295.51 L119.09,295.51 L119.41,295.51 L119.73,295.51 L120.05,295.51 L120.37,295.51 L120.69,295.51 L121.01,295.51 L121.33,295.51 L121.65,295.51 L121.97,295.51 L122.28,295.51 L122.6,295.51 L122.92,295.51 L123.24,295.51 L123.56,295.51 L123.88,295.51 L124.2,295.51 L124.52,295.51 L124.84,295.51 L125.16,295.51 L125.48,295.51 L125.8,295.51 L126.12,295.51 L126.44,295.51 L126.76,295.51 L127.08,295.51 L127.39,295.51 L127.71,295.51 L128.03,295.51 L128.35,295.51 L128.67,295.51 L128.99,295.51 L129.31,295.51 L129.63,295.51 L129.95,295.51 L129.95,404.07 L149.37,404.07 L149.37,295.51 L149.69,295.51 L150.01,295.51 L150.33,295.51 L150.65,295.51 L150.97,295.51 L151.29,295.51 L151.6,295.51 L151.92,295.51 L152.24,295.51 L152.56,295.51 L152.88,295.51 L153.2,295.51 L153.52,295.51 L153.84,295.51 L154.16,295.51 L154.48,295.51 L154.8,295.51 L155.12,295.51 L155.44,295.51 L155.76,295.51 L156.08,295.51 L156.4,295.51 L156.71,295.51 L157.03,295.51 L157.35,295.51 L157.67,295.51 L157.99,295.51 L158.31,295.51 L158.63,295.51 L158.95,295.51 L159.27,295.51 L159.59,295.51 L159.91,295.51 L160.23,295.51 L160.55,295.51 L160.87,295.51 L161.19,295.51 L161.51,295.51 L161.82,295.51 L162.14,295.51 L162.46,295.51 L162.78,295.51 L163.1,295.51 L163.42,295.51 L163.74,295.51 L164.06,295.51 L164.38,295.51 L164.7,295.51 L165.02,295.51 L165.34,295.51 L165.66,295.51 L165.98,295.51 L166.3,295.51 L166.62,295.51 L166.93,295.51 L167.25,295.51 L167.57,295.51 L167.89,295.51 L168.21,295.51 L168.53,295.51 L168.53,404.07 L187.95,404.07 L187.95,295.51 L188.27,295.51 L188.59,295.51 L188.91,295.51 L189.23,295.51 L189.55,295.51 L189.87,295.51 L190.19,295.51 L190.51,295.51 L190.83,295.51 L191.14,295.51 L191.46,295.51 L191.78,295.51 L192.1,295.51 L192.42,295.51 L192.74,295.51 L193.06,295.51 L193.38,295.51 L193.7,295.51 L194.02,295.51 L194.34,295.51 L194.66,295.51 L194.98,295.51 L195.3,295.51 L195.62,295.51 L195.94,295.51 L196.25,295.51 L196.57,295.51 L196.89,295.51 L197.21,295.51 L197.53,295.51 L197.85,295.51 L198.17,295.51 L198.49,295.51 L198.81,295.51 L199.13,295.51 L199.45,295.51 L199.77,295.51 L200.09,295.51 L200.41,295.51 L200.73,295.51 L201.05,295.51 L201.36,295.51 L201.68,295.51 L202,295.51 L202.32,295.51 L202.64,295.51 L202.96,295.51 L203.28,295.51 L203.6,295.51 L203.92,295.51 L204.24,295.51 L204.56,295.51 L204.88,295.51 L205.2,295.51 L205.52,295.51 L205.84,295.51 L206.15,295.51 L206.47,295.51 L206.79,295.51 L207.11,295.51 L207.11,404.07 L226.53,404.07 L226.53,295.51 L226.85,295.51 L227.17,295.51 L227.49,295.51 L227.81,295.51 L228.13,295.51 L228.45,295.51 L228.77,295.51 L229.09,295.51 L229.41,295.51 L229.73,295.51 L230.05,295.51 L230.37,295.51 L230.68,295.51 L231,295.51 L231.32,295.51 L231.64,295.51 L231.96,295.51 L232.28,295.51 L232.6,295.51 L232.92,295.51 L233.24,295.51 L233.56,295.51 L233.88,295.51 L234.2,295.51 L234.52,295.51 L234.84,295.51 L235.16,295.51 L235.48,295.51 L235.79,295.51 L236.11,295.51 L236.43,295.51 L236.75,295.51 L237.07,295.51 L237.39,295.51 L237.71,295.51 L238.03,295.51 L238.35,295.51 L238.67,295.51 L238.99,295.51 L239.31,295.51 L239.63,295.51 L239.95,295.51 L240.27,295.51 L240.58,295.51 L240.9,295.51 L241.22,295.51 L241.54,295.51 L241.86,295.51 L242.18,295.51 L242.5,295.51 L242.82,295.51 L243.14,295.51 L243.46,295.51 L243.78,295.51 L244.1,295.51 L244.42,295.51 L244.74,295.51 L245.06,295.51 L245.38,295.51 L245.69,295.51 L245.69,404.07 L264.6,404.07" fill="none" stroke="#1ed21e" stroke-width="1.7" stroke-linejoin="miter"/>
<path d="M52.4,404.07 L72.21,404.07 L72.21,295.28 L72.52,295.28 L72.84,295.28 L73.16,295.28 L73.48,295.28 L73.8,295.28 L74.12,295.28 L74.44,295.28 L74.76,295.28 L75.08,295.28 L75.4,295.28 L75.72,295.28 L76.04,295.28 L76.36,295.28 L76.68,295.28 L77,295.28 L77.32,295.28 L77.63,295.28 L77.95,295.28 L78.27,295.28 L78.59,295.28 L78.91,295.28 L79.23,295.28 L79.55,295.28 L79.87,295.28 L80.19,295.28 L80.51,295.28 L80.83,295.28 L81.15,295.28 L81.47,295.28 L81.79,295.28 L82.11,295.28 L82.43,295.28 L82.74,295.28 L83.06,295.28 L83.38,295.28 L83.7,295.28 L84.02,295.28 L84.34,295.28 L84.66,295.28 L84.98,295.28 L85.3,295.28 L85.62,295.28 L85.94,295.28 L86.26,295.28 L86.58,295.28 L86.9,295.28 L87.22,295.28 L87.54,295.28 L87.85,295.28 L88.17,295.28 L88.49,295.28 L88.81,295.28 L89.13,295.28 L89.45,295.28 L89.77,295.28 L90.09,295.28 L90.41,295.28 L90.73,295.28 L91.05,295.28 L91.37,295.28 L91.37,404.07 L110.79,404.07 L110.79,295.28 L111.11,295.28 L111.43,295.28 L111.75,295.28 L112.06,295.28 L112.38,295.28 L112.7,295.28 L113.02,295.28 L113.34,295.28 L113.66,295.28 L113.98,295.28 L114.3,295.28 L114.62,295.28 L114.94,295.28 L115.26,295.28 L115.58,295.28 L115.9,295.28 L116.22,295.28 L116.54,295.28 L116.86,295.28 L117.17,295.28 L117.49,295.28 L117.81,295.28 L118.13,295.28 L118.45,295.28 L118.77,295.28 L119.09,295.28 L119.41,295.28 L119.73,295.28 L120.05,295.28 L120.37,295.28 L120.69,295.28 L121.01,295.28 L121.33,295.28 L121.65,295.28 L121.97,295.28 L122.28,295.28 L122.6,295.28 L122.92,295.28 L123.24,295.28 L123.56,295.28 L123.88,295.28 L124.2,295.28 L124.52,295.28 L124.84,295.28 L125.16,295.28 L125.48,295.28 L125.8,295.28 L126.12,295.28 L126.44,295.28 L126.76,295.28 L127.08,295.28 L127.39,295.28 L127.71,295.28 L128.03,295.28 L128.35,295.28 L128.67,295.28 L128.99,295.28 L129.31,295.28 L129.63,295.28 L129.95,295.28 L129.95,404.07 L149.37,404.07 L149.37,295.28 L149.69,295.28 L150.01,295.28 L150.33,295.28 L150.65,295.28 L150.97,295.28 L151.29,295.28 L151.6,295.28 L151.92,295.28 L152.24,295.28 L152.56,295.28 L152.88,295.28 L153.2,295.28 L153.52,295.28 L153.84,295.28 L154.16,295.28 L154.48,295.28 L154.8,295.28 L155.12,295.28 L155.44,295.28 L155.76,295.28 L156.08,295.28 L156.4,295.28 L156.71,295.28 L157.03,295.28 L157.35,295.28 L157.67,295.28 L157.99,295.28 L158.31,295.28 L158.63,295.28 L158.95,295.28 L159.27,295.28 L159.59,295.28 L159.91,295.28 L160.23,295.28 L160.55,295.28 L160.87,295.28 L161.19,295.28 L161.51,295.28 L161.82,295.28 L162.14,295.28 L162.46,295.28 L162.78,295.28 L163.1,295.28 L163.42,295.28 L163.74,295.28 L164.06,295.28 L164.38,295.28 L164.7,295.28 L165.02,295.28 L165.34,295.28 L165.66,295.28 L165.98,295.28 L166.3,295.28 L166.62,295.28 L166.93,295.28 L167.25,295.28 L167.57,295.28 L167.89,295.28 L168.21,295.28 L168.53,295.28 L168.53,404.07 L187.95,404.07 L187.95,295.28 L188.27,295.28 L188.59,295.28 L188.91,295.28 L189.23,295.28 L189.55,295.28 L189.87,295.28 L190.19,295.28 L190.51,295.28 L190.83,295.28 L191.14,295.28 L191.46,295.28 L191.78,295.28 L192.1,295.28 L192.42,295.28 L192.74,295.28 L193.06,295.28 L193.38,295.28 L193.7,295.28 L194.02,295.28 L194.34,295.28 L194.66,295.28 L194.98,295.28 L195.3,295.28 L195.62,295.28 L195.94,295.28 L196.25,295.28 L196.57,295.28 L196.89,295.28 L197.21,295.28 L197.53,295.28 L197.85,295.28 L198.17,295.28 L198.49,295.28 L198.81,295.28 L199.13,295.28 L199.45,295.28 L199.77,295.28 L200.09,295.28 L200.41,295.28 L200.73,295.28 L201.05,295.28 L201.36,295.28 L201.68,295.28 L202,295.28 L202.32,295.28 L202.64,295.28 L202.96,295.28 L203.28,295.28 L203.6,295.28 L203.92,295.28 L204.24,295.28 L204.56,295.28 L204.88,295.28 L205.2,295.28 L205.52,295.28 L205.84,295.28 L206.15,295.28 L206.47,295.28 L206.79,295.28 L207.11,295.28 L207.11,404.07 L226.53,404.07 L226.53,295.28 L226.85,295.28 L227.17,295.28 L227.49,295.28 L227.81,295.28 L228.13,295.28 L228.45,295.28 L228.77,295.28 L229.09,295.28 L229.41,295.28 L229.73,295.28 L230.05,295.28 L230.37,295.28 L230.68,295.28 L231,295.28 L231.32,295.28 L231.64,295.28 L231.96,295.28 L232.28,295.28 L232.6,295.28 L232.92,295.28 L233.24,295.28 L233.56,295.28 L233.88,295.28 L234.2,295.28 L234.52,295.28 L234.84,295.28 L235.16,295.28 L235.48,295.28 L235.79,295.28 L236.11,295.28 L236.43,295.28 L236.75,295.28 L237.07,295.28 L237.39,295.28 L237.71,295.28 L238.03,295.28 L238.35,295.28 L238.67,295.28 L238.99,295.28 L239.31,295.28 L239.63,295.28 L239.95,295.28 L240.27,295.28 L240.58,295.28 L240.9,295.28 L241.22,295.28 L241.54,295.28 L241.86,295.28 L242.18,295.28 L242.5,295.28 L242.82,295.28 L243.14,295.28 L243.46,295.28 L243.78,295.28 L244.1,295.28 L244.42,295.28 L244.74,295.28 L245.06,295.28 L245.38,295.28 L245.69,295.28 L245.69,404.07 L264.6,404.07" fill="none" stroke="#1818f0" stroke-width="1.7" stroke-linejoin="miter"/>
<path d="M52.4,404.07 L72.21,404.07 L72.21,309.58 L72.52,309.58 L72.84,309.58 L73.16,309.58 L73.48,309.58 L73.8,309.58 L74.12,309.58 L74.44,309.58 L74.76,309.58 L75.08,309.58 L75.4,309.58 L75.72,309.58 L76.04,309.58 L76.36,309.58 L76.68,309.58 L77,309.58 L77.32,309.58 L77.63,309.58 L77.95,309.58 L78.27,309.58 L78.59,309.58 L78.91,309.58 L79.23,309.58 L79.55,309.58 L79.87,309.58 L80.19,309.58 L80.51,309.58 L80.83,309.58 L81.15,309.58 L81.47,309.58 L81.79,309.58 L82.11,309.58 L82.43,309.58 L82.74,309.58 L83.06,309.58 L83.38,309.58 L83.7,309.58 L84.02,309.58 L84.34,309.58 L84.66,309.58 L84.98,309.58 L85.3,309.58 L85.62,309.58 L85.94,309.58 L86.26,309.58 L86.58,309.58 L86.9,309.58 L87.22,309.58 L87.54,309.58 L87.85,309.58 L88.17,309.58 L88.49,309.58 L88.81,309.58 L89.13,309.58 L89.45,309.58 L89.77,309.58 L90.09,309.58 L90.41,309.58 L90.73,309.58 L91.05,309.58 L91.37,309.58 L91.37,404.07 L110.79,404.07 L110.79,309.58 L111.11,309.58 L111.43,309.58 L111.75,309.58 L112.06,309.58 L112.38,309.58 L112.7,309.58 L113.02,309.58 L113.34,309.58 L113.66,309.58 L113.98,309.58 L114.3,309.58 L114.62,309.58 L114.94,309.58 L115.26,309.58 L115.58,309.58 L115.9,309.58 L116.22,309.58 L116.54,309.58 L116.86,309.58 L117.17,309.58 L117.49,309.58 L117.81,309.58 L118.13,309.58 L118.45,309.58 L118.77,309.58 L119.09,309.58 L119.41,309.58 L119.73,309.58 L120.05,309.58 L120.37,309.58 L120.69,309.58 L121.01,309.58 L121.33,309.58 L121.65,309.58 L121.97,309.58 L122.28,309.58 L122.6,309.58 L122.92,309.58 L123.24,309.58 L123.56,309.58 L123.88,309.58 L124.2,309.58 L124.52,309.58 L124.84,309.58 L125.16,309.58 L125.48,309.58 L125.8,309.58 L126.12,309.58 L126.44,309.58 L126.76,309.58 L127.08,309.58 L127.39,309.58 L127.71,309.58 L128.03,309.58 L128.35,309.58 L128.67,309.58 L128.99,309.58 L129.31,309.58 L129.63,309.58 L129.95,309.58 L129.95,404.07 L149.37,404.07 L149.37,309.58 L149.69,309.58 L150.01,309.58 L150.33,309.58 L150.65,309.58 L150.97,309.58 L151.29,309.58 L151.6,309.58 L151.92,309.58 L152.24,309.58 L152.56,309.58 L152.88,309.58 L153.2,309.58 L153.52,309.58 L153.84,309.58 L154.16,309.58 L154.48,309.58 L154.8,309.58 L155.12,309.58 L155.44,309.58 L155.76,309.58 L156.08,309.58 L156.4,309.58 L156.71,309.58 L157.03,309.58 L157.35,309.58 L157.67,309.58 L157.99,309.58 L158.31,309.58 L158.63,309.58 L158.95,309.58 L159.27,309.58 L159.59,309.58 L159.91,309.58 L160.23,309.58 L160.55,309.58 L160.87,309.58 L161.19,309.58 L161.51,309.58 L161.82,309.58 L162.14,309.58 L162.46,309.58 L162.78,309.58 L163.1,309.58 L163.42,309.58 L163.74,309.58 L164.06,309.58 L164.38,309.58 L164.7,309.58 L165.02,309.58 L165.34,309.58 L165.66,309.58 L165.98,309.58 L166.3,309.58 L166.62,309.58 L166.93,309.58 L167.25,309.58 L167.57,309.58 L167.89,309.58 L168.21,309.58 L168.53,309.58 L168.53,404.07 L187.95,404.07 L187.95,309.58 L188.27,309.58 L188.59,309.58 L188.91,309.58 L189.23,309.58 L189.55,309.58 L189.87,309.58 L190.19,309.58 L190.51,309.58 L190.83,309.58 L191.14,309.58 L191.46,309.58 L191.78,309.58 L192.1,309.58 L192.42,309.58 L192.74,309.58 L193.06,309.58 L193.38,309.58 L193.7,309.58 L194.02,309.58 L194.34,309.58 L194.66,309.58 L194.98,309.58 L195.3,309.58 L195.62,309.58 L195.94,309.58 L196.25,309.58 L196.57,309.58 L196.89,309.58 L197.21,309.58 L197.53,309.58 L197.85,309.58 L198.17,309.58 L198.49,309.58 L198.81,309.58 L199.13,309.58 L199.45,309.58 L199.77,309.58 L200.09,309.58 L200.41,309.58 L200.73,309.58 L201.05,309.58 L201.36,309.58 L201.68,309.58 L202,309.58 L202.32,309.58 L202.64,309.58 L202.96,309.58 L203.28,309.58 L203.6,309.58 L203.92,309.58 L204.24,309.58 L204.56,309.58 L204.88,309.58 L205.2,309.58 L205.52,309.58 L205.84,309.58 L206.15,309.58 L206.47,309.58 L206.79,309.58 L207.11,309.58 L207.11,404.07 L226.53,404.07 L226.53,309.58 L226.85,309.58 L227.17,309.58 L227.49,309.58 L227.81,309.58 L228.13,309.58 L228.45,309.58 L228.77,309.58 L229.09,309.58 L229.41,309.58 L229.73,309.58 L230.05,309.58 L230.37,309.58 L230.68,309.58 L231,309.58 L231.32,309.58 L231.64,309.58 L231.96,309.58 L232.28,309.58 L232.6,309.58 L232.92,309.58 L233.24,309.58 L233.56,309.58 L233.88,309.58 L234.2,309.58 L234.52,309.58 L234.84,309.58 L235.16,309.58 L235.48,309.58 L235.79,309.58 L236.11,309.58 L236.43,309.58 L236.75,309.58 L237.07,309.58 L237.39,309.58 L237.71,309.58 L238.03,309.58 L238.35,309.58 L238.67,309.58 L238.99,309.58 L239.31,309.58 L239.63,309.58 L239.95,309.58 L240.27,309.58 L240.58,309.58 L240.9,309.58 L241.22,309.58 L241.54,309.58 L241.86,309.58 L242.18,309.58 L242.5,309.58 L242.82,309.58 L243.14,309.58 L243.46,309.58 L243.78,309.58 L244.1,309.58 L244.42,309.58 L244.74,309.58 L245.06,309.58 L245.38,309.58 L245.69,309.58 L245.69,404.07 L264.6,404.07" fill="none" stroke="#14148c" stroke-width="1.75" stroke-linejoin="miter"/>
<line x1="53.2" y1="404.07" x2="71.41" y2="404.07" stroke="#1c1cd2" stroke-width="1.5"/>
<line x1="92.17" y1="404.07" x2="109.99" y2="404.07" stroke="#1c1cd2" stroke-width="1.5"/>
<line x1="130.75" y1="404.07" x2="148.57" y2="404.07" stroke="#1c1cd2" stroke-width="1.5"/>
<line x1="169.33" y1="404.07" x2="187.15" y2="404.07" stroke="#1c1cd2" stroke-width="1.5"/>
<line x1="207.91" y1="404.07" x2="225.73" y2="404.07" stroke="#1c1cd2" stroke-width="1.5"/>
<line x1="246.49" y1="404.07" x2="263.8" y2="404.07" stroke="#1c1cd2" stroke-width="1.5"/>
<line x1="49.2" y1="404.3" x2="52.1" y2="404.3" stroke="#555555" stroke-width="1"/>
<line x1="51" y1="390" x2="52.2" y2="390" stroke="#555555" stroke-width="1"/>
<line x1="49.2" y1="375.7" x2="52.1" y2="375.7" stroke="#555555" stroke-width="1"/>
<line x1="51" y1="361.4" x2="52.2" y2="361.4" stroke="#555555" stroke-width="1"/>
<line x1="49.2" y1="347.1" x2="52.1" y2="347.1" stroke="#555555" stroke-width="1"/>
<line x1="51" y1="332.8" x2="52.2" y2="332.8" stroke="#555555" stroke-width="1"/>
<line x1="49.2" y1="318.5" x2="52.1" y2="318.5" stroke="#555555" stroke-width="1"/>
<line x1="51" y1="304.2" x2="52.2" y2="304.2" stroke="#555555" stroke-width="1"/>
<line x1="49.2" y1="289.9" x2="52.1" y2="289.9" stroke="#555555" stroke-width="1"/>
<line x1="51" y1="275.6" x2="52.2" y2="275.6" stroke="#555555" stroke-width="1"/>
<line x1="49.2" y1="261.3" x2="52.1" y2="261.3" stroke="#555555" stroke-width="1"/>
<line x1="51" y1="247" x2="52.2" y2="247" stroke="#555555" stroke-width="1"/>
<line x1="49.2" y1="232.7" x2="52.1" y2="232.7" stroke="#555555" stroke-width="1"/>
<text x="46.8" y="409.3" font-size="9.6" text-anchor="end" font-weight="normal" fill="#1a1a1a" stroke="#1a1a1a" stroke-width="0.45" stroke-linejoin="round" textLength="4.55" lengthAdjust="spacingAndGlyphs" >0</text>
<text x="48.3" y="380.7" font-size="9.6" text-anchor="end" font-weight="normal" fill="#1a1a1a" stroke="#1a1a1a" stroke-width="0.45" stroke-linejoin="round" textLength="9.1" lengthAdjust="spacingAndGlyphs" >50</text>
<text x="48.3" y="352.1" font-size="9.6" text-anchor="end" font-weight="normal" fill="#1a1a1a" stroke="#1a1a1a" stroke-width="0.45" stroke-linejoin="round" textLength="13.65" lengthAdjust="spacingAndGlyphs" >100</text>
<text x="48.3" y="323.5" font-size="9.6" text-anchor="end" font-weight="normal" fill="#1a1a1a" stroke="#1a1a1a" stroke-width="0.45" stroke-linejoin="round" textLength="13.65" lengthAdjust="spacingAndGlyphs" >150</text>
<text x="48.3" y="294.9" font-size="9.6" text-anchor="end" font-weight="normal" fill="#1a1a1a" stroke="#1a1a1a" stroke-width="0.45" stroke-linejoin="round" textLength="13.65" lengthAdjust="spacingAndGlyphs" >200</text>
<text x="48.3" y="266.3" font-size="9.6" text-anchor="end" font-weight="normal" fill="#1a1a1a" stroke="#1a1a1a" stroke-width="0.45" stroke-linejoin="round" textLength="13.65" lengthAdjust="spacingAndGlyphs" >250</text>
<text x="48.3" y="237.7" font-size="9.6" text-anchor="end" font-weight="normal" fill="#1a1a1a" stroke="#1a1a1a" stroke-width="0.45" stroke-linejoin="round" textLength="13.65" lengthAdjust="spacingAndGlyphs" >300</text>
<line x1="52.4" y1="404.5" x2="52.4" y2="407.5" stroke="#555555" stroke-width="1"/>
<line x1="68.48" y1="404.5" x2="68.48" y2="405.9" stroke="#555555" stroke-width="1"/>
<line x1="84.55" y1="404.5" x2="84.55" y2="407.5" stroke="#555555" stroke-width="1"/>
<line x1="100.63" y1="404.5" x2="100.63" y2="405.9" stroke="#555555" stroke-width="1"/>
<line x1="116.7" y1="404.5" x2="116.7" y2="407.5" stroke="#555555" stroke-width="1"/>
<line x1="132.78" y1="404.5" x2="132.78" y2="405.9" stroke="#555555" stroke-width="1"/>
<line x1="148.85" y1="404.5" x2="148.85" y2="407.5" stroke="#555555" stroke-width="1"/>
<line x1="164.93" y1="404.5" x2="164.93" y2="405.9" stroke="#555555" stroke-width="1"/>
<line x1="181.01" y1="404.5" x2="181.01" y2="407.5" stroke="#555555" stroke-width="1"/>
<line x1="197.08" y1="404.5" x2="197.08" y2="405.9" stroke="#555555" stroke-width="1"/>
<line x1="213.16" y1="404.5" x2="213.16" y2="407.5" stroke="#555555" stroke-width="1"/>
<line x1="229.23" y1="404.5" x2="229.23" y2="405.9" stroke="#555555" stroke-width="1"/>
<line x1="245.31" y1="404.5" x2="245.31" y2="407.5" stroke="#555555" stroke-width="1"/>
<line x1="261.38" y1="404.5" x2="261.38" y2="405.9" stroke="#555555" stroke-width="1"/>
<text x="53.8" y="418.6" font-size="9.3" text-anchor="middle" font-weight="normal" fill="#1a1a1a" stroke="#1a1a1a" stroke-width="0.45" stroke-linejoin="round" textLength="4.9" lengthAdjust="spacingAndGlyphs" >0</text>
<text x="85.95" y="418.6" font-size="9.3" text-anchor="middle" font-weight="normal" fill="#1a1a1a" stroke="#1a1a1a" stroke-width="0.45" stroke-linejoin="round" textLength="9.8" lengthAdjust="spacingAndGlyphs" >50</text>
<text x="118.1" y="418.6" font-size="9.3" text-anchor="middle" font-weight="normal" fill="#1a1a1a" stroke="#1a1a1a" stroke-width="0.45" stroke-linejoin="round" textLength="14.7" lengthAdjust="spacingAndGlyphs" >100</text>
<text x="150.25" y="418.6" font-size="9.3" text-anchor="middle" font-weight="normal" fill="#1a1a1a" stroke="#1a1a1a" stroke-width="0.45" stroke-linejoin="round" textLength="14.7" lengthAdjust="spacingAndGlyphs" >150</text>
<text x="182.41" y="418.6" font-size="9.3" text-anchor="middle" font-weight="normal" fill="#1a1a1a" stroke="#1a1a1a" stroke-width="0.45" stroke-linejoin="round" textLength="14.7" lengthAdjust="spacingAndGlyphs" >200</text>
<text x="214.56" y="418.6" font-size="9.3" text-anchor="middle" font-weight="normal" fill="#1a1a1a" stroke="#1a1a1a" stroke-width="0.45" stroke-linejoin="round" textLength="14.7" lengthAdjust="spacingAndGlyphs" >250</text>
<text x="246.71" y="418.6" font-size="9.3" text-anchor="middle" font-weight="normal" fill="#1a1a1a" stroke="#1a1a1a" stroke-width="0.45" stroke-linejoin="round" textLength="14.7" lengthAdjust="spacingAndGlyphs" >300</text>
<text x="163.4" y="434.2" font-size="11.8" text-anchor="middle" font-weight="normal" fill="#1a1a1a" stroke="#1a1a1a" stroke-width="0.6" stroke-linejoin="round" textLength="41.3" lengthAdjust="spacingAndGlyphs" >Time (s)</text>
<text x="0" y="0" font-size="10.8" text-anchor="middle" fill="#1a1a1a" stroke="#1a1a1a" stroke-width="0.36" stroke-linejoin="round" textLength="134.6" lengthAdjust="spacingAndGlyphs" transform="translate(26.9,319.6) rotate(-90)">Current density (&#956;A/cm<tspan font-size="6.5" dy="-4">2</tspan><tspan dy="4">)</tspan></text>
<text x="53.8" y="229.8" font-size="10.3" text-anchor="start" font-weight="bold" fill="#1a1a1a" stroke="#1a1a1a" stroke-width="0.25" stroke-linejoin="round" textLength="7.9" lengthAdjust="spacingAndGlyphs" >c)</text>
<line x1="205.3" y1="240.9" x2="221.3" y2="240.9" stroke="#14148c" stroke-width="1.7"/>
<text x="224.5" y="244.4" font-size="8.6" text-anchor="start" font-weight="normal" fill="#1a1a1a" stroke="#1a1a1a" stroke-width="0.45" stroke-linejoin="round" textLength="31.8" lengthAdjust="spacingAndGlyphs" >ZnO&#8211;50</text>
<line x1="205.3" y1="251.7" x2="221.3" y2="251.7" stroke="#1818f0" stroke-width="1.7"/>
<text x="224.5" y="255.2" font-size="8.6" text-anchor="start" font-weight="normal" fill="#1a1a1a" stroke="#1a1a1a" stroke-width="0.45" stroke-linejoin="round" textLength="35" lengthAdjust="spacingAndGlyphs" >ZnO&#8211;100</text>
<line x1="205.3" y1="262.5" x2="221.3" y2="262.5" stroke="#1ed21e" stroke-width="1.7"/>
<text x="224.5" y="266" font-size="8.6" text-anchor="start" font-weight="normal" fill="#1a1a1a" stroke="#1a1a1a" stroke-width="0.45" stroke-linejoin="round" textLength="35" lengthAdjust="spacingAndGlyphs" >ZnO&#8211;150</text>
<line x1="205.3" y1="273.3" x2="221.3" y2="273.3" stroke="#f8c000" stroke-width="1.7"/>
<text x="224.5" y="276.8" font-size="8.6" text-anchor="start" font-weight="normal" fill="#1a1a1a" stroke="#1a1a1a" stroke-width="0.45" stroke-linejoin="round" textLength="36.8" lengthAdjust="spacingAndGlyphs" >ZnO&#8211;200</text>
<line x1="315.1" y1="233.1" x2="527.4" y2="233.1" stroke="#8c8c8c" stroke-width="1.3"/>
<line x1="527.4" y1="233.1" x2="527.4" y2="404.3" stroke="#8c8c8c" stroke-width="1.3"/>
<line x1="314.1" y1="404.5" x2="528" y2="404.5" stroke="#929292" stroke-width="1.7"/>
<line x1="315.2" y1="232.5" x2="315.2" y2="405.3" stroke="#969696" stroke-width="1.7"/>
<path d="M315.1,404.07 L333.38,404.07 L333.38,290.11 L336.33,289.31 L339.28,289.22 L342.23,289.2 L345.18,289.18 L348.13,289.16 L351.08,289.15 L354.04,289.13 L356.99,289.11 L359.94,289.09 L362.89,289.07 L365.84,289.05 L368.79,289.04 L371.74,289.02 L374.69,289 L377.64,288.98 L380.59,288.96 L383.54,288.95 L386.49,288.93 L389.44,288.91 L392.39,288.89 L395.34,288.87 L398.29,288.86 L401.24,288.84 L404.2,288.82 L407.15,288.8 L410.1,288.78 L413.05,288.77 L416,288.75 L418.95,288.73 L421.9,288.71 L424.85,288.69 L427.8,288.68 L430.75,288.66 L433.7,288.64 L436.65,288.62 L439.6,288.6 L442.55,288.58 L445.5,288.57 L448.45,288.55 L451.4,288.53 L454.36,288.51 L457.31,288.49 L460.26,288.48 L463.21,288.46 L466.16,288.44 L469.11,288.42 L472.06,288.4 L475.01,288.39 L477.96,288.37 L480.91,288.35 L483.86,288.33 L486.81,288.31 L489.76,288.3 L492.71,288.28 L495.66,288.26 L498.61,288.24 L501.56,288.22 L504.51,288.21 L507.47,288.19 L510.42,288.17 L510.42,404.07 L527.4,404.07" fill="none" stroke="#f0dc14" stroke-width="1.45" stroke-linejoin="miter"/>
<path d="M315.1,404.07 L333.38,404.07 L333.38,295.53 L336.33,295.51 L339.28,295.48 L342.23,295.46 L345.18,295.44 L348.13,295.41 L351.08,295.39 L354.04,295.36 L356.99,295.34 L359.94,295.32 L362.89,295.29 L365.84,295.27 L368.79,295.25 L371.74,295.22 L374.69,295.2 L377.64,295.17 L380.59,295.15 L383.54,295.13 L386.49,295.1 L389.44,295.08 L392.39,295.06 L395.34,295.03 L398.29,295.01 L401.24,294.98 L404.2,294.96 L407.15,294.94 L410.1,294.91 L413.05,294.89 L416,294.86 L418.95,294.84 L421.9,294.82 L424.85,294.79 L427.8,294.77 L430.75,294.75 L433.7,294.72 L436.65,294.7 L439.6,294.67 L442.55,294.65 L445.5,294.63 L448.45,294.6 L451.4,294.58 L454.36,294.56 L457.31,294.53 L460.26,294.51 L463.21,294.48 L466.16,294.46 L469.11,294.44 L472.06,294.41 L475.01,294.39 L477.96,294.37 L480.91,294.34 L483.86,294.32 L486.81,294.29 L489.76,294.27 L492.71,294.25 L495.66,294.22 L498.61,294.2 L501.56,294.17 L504.51,294.15 L507.47,294.13 L510.42,294.1 L510.42,404.07 L527.4,404.07" fill="none" stroke="#1ed21e" stroke-width="1.7" stroke-linejoin="miter"/>
<path d="M315.1,404.07 L333.38,404.07 L333.38,295.36 L336.33,295.34 L339.28,295.33 L342.23,295.31 L345.18,295.29 L348.13,295.27 L351.08,295.26 L354.04,295.24 L356.99,295.22 L359.94,295.21 L362.89,295.19 L365.84,295.17 L368.79,295.15 L371.74,295.14 L374.69,295.12 L377.64,295.1 L380.59,295.09 L383.54,295.07 L386.49,295.05 L389.44,295.03 L392.39,295.02 L395.34,295 L398.29,294.98 L401.24,294.97 L404.2,294.95 L407.15,294.93 L410.1,294.91 L413.05,294.9 L416,294.88 L418.95,294.86 L421.9,294.85 L424.85,294.85 L427.8,294.85 L430.75,294.85 L433.7,294.85 L436.65,294.85 L439.6,294.85 L442.55,294.85 L445.5,294.85 L448.45,294.85 L451.4,294.85 L454.36,294.85 L457.31,294.85 L460.26,294.85 L463.21,294.85 L466.16,294.85 L469.11,294.85 L472.06,294.85 L475.01,294.85 L477.96,294.85 L480.91,294.85 L483.86,294.85 L486.81,294.85 L489.76,294.85 L492.71,294.85 L495.66,294.85 L498.61,294.85 L501.56,294.85 L504.51,294.85 L507.47,294.85 L510.42,294.85 L510.42,404.07 L527.4,404.07" fill="none" stroke="#1818f0" stroke-width="1.7" stroke-linejoin="miter"/>
<path d="M315.1,404.07 L333.38,404.07 L333.38,310.2 L336.33,310.18 L339.28,310.16 L342.23,310.15 L345.18,310.13 L348.13,310.11 L351.08,310.09 L354.04,310.08 L356.99,310.06 L359.94,310.04 L362.89,310.03 L365.84,310.01 L368.79,309.99 L371.74,309.97 L374.69,309.96 L377.64,309.94 L380.59,309.92 L383.54,309.91 L386.49,309.89 L389.44,309.87 L392.39,309.85 L395.34,309.84 L398.29,309.82 L401.24,309.8 L404.2,309.79 L407.15,309.77 L410.1,309.75 L413.05,309.73 L416,309.72 L418.95,309.7 L421.9,309.68 L424.85,309.67 L427.8,309.65 L430.75,309.63 L433.7,309.61 L436.65,309.6 L439.6,309.58 L442.55,309.56 L445.5,309.55 L448.45,309.53 L451.4,309.51 L454.36,309.5 L457.31,309.48 L460.26,309.46 L463.21,309.44 L466.16,309.43 L469.11,309.41 L472.06,309.39 L475.01,309.38 L477.96,309.36 L480.91,309.34 L483.86,309.32 L486.81,309.31 L489.76,309.29 L492.71,309.27 L495.66,309.26 L498.61,309.24 L501.56,309.22 L504.51,309.2 L507.47,309.19 L510.42,309.17 L510.42,404.07 L527.4,404.07" fill="none" stroke="#14148c" stroke-width="1.75" stroke-linejoin="miter"/>
<line x1="315.9" y1="404.07" x2="332.58" y2="404.07" stroke="#1c1cd2" stroke-width="1.5"/>
<line x1="511.22" y1="404.07" x2="526.6" y2="404.07" stroke="#1c1cd2" stroke-width="1.5"/>
<line x1="311.9" y1="404.3" x2="314.8" y2="404.3" stroke="#555555" stroke-width="1"/>
<line x1="313.7" y1="390.03" x2="314.9" y2="390.03" stroke="#555555" stroke-width="1"/>
<line x1="311.9" y1="375.77" x2="314.8" y2="375.77" stroke="#555555" stroke-width="1"/>
<line x1="313.7" y1="361.5" x2="314.9" y2="361.5" stroke="#555555" stroke-width="1"/>
<line x1="311.9" y1="347.23" x2="314.8" y2="347.23" stroke="#555555" stroke-width="1"/>
<line x1="313.7" y1="332.97" x2="314.9" y2="332.97" stroke="#555555" stroke-width="1"/>
<line x1="311.9" y1="318.7" x2="314.8" y2="318.7" stroke="#555555" stroke-width="1"/>
<line x1="313.7" y1="304.43" x2="314.9" y2="304.43" stroke="#555555" stroke-width="1"/>
<line x1="311.9" y1="290.17" x2="314.8" y2="290.17" stroke="#555555" stroke-width="1"/>
<line x1="313.7" y1="275.9" x2="314.9" y2="275.9" stroke="#555555" stroke-width="1"/>
<line x1="311.9" y1="261.63" x2="314.8" y2="261.63" stroke="#555555" stroke-width="1"/>
<line x1="313.7" y1="247.37" x2="314.9" y2="247.37" stroke="#555555" stroke-width="1"/>
<line x1="311.9" y1="233.1" x2="314.8" y2="233.1" stroke="#555555" stroke-width="1"/>
<text x="309.5" y="409.3" font-size="9.6" text-anchor="end" font-weight="normal" fill="#1a1a1a" stroke="#1a1a1a" stroke-width="0.45" stroke-linejoin="round" textLength="4.55" lengthAdjust="spacingAndGlyphs" >0</text>
<text x="311" y="380.77" font-size="9.6" text-anchor="end" font-weight="normal" fill="#1a1a1a" stroke="#1a1a1a" stroke-width="0.45" stroke-linejoin="round" textLength="9.1" lengthAdjust="spacingAndGlyphs" >50</text>
<text x="311" y="352.23" font-size="9.6" text-anchor="end" font-weight="normal" fill="#1a1a1a" stroke="#1a1a1a" stroke-width="0.45" stroke-linejoin="round" textLength="13.65" lengthAdjust="spacingAndGlyphs" >100</text>
<text x="311" y="323.7" font-size="9.6" text-anchor="end" font-weight="normal" fill="#1a1a1a" stroke="#1a1a1a" stroke-width="0.45" stroke-linejoin="round" textLength="13.65" lengthAdjust="spacingAndGlyphs" >150</text>
<text x="311" y="295.17" font-size="9.6" text-anchor="end" font-weight="normal" fill="#1a1a1a" stroke="#1a1a1a" stroke-width="0.45" stroke-linejoin="round" textLength="13.65" lengthAdjust="spacingAndGlyphs" >200</text>
<text x="311" y="266.63" font-size="9.6" text-anchor="end" font-weight="normal" fill="#1a1a1a" stroke="#1a1a1a" stroke-width="0.45" stroke-linejoin="round" textLength="13.65" lengthAdjust="spacingAndGlyphs" >250</text>
<text x="311" y="238.1" font-size="9.6" text-anchor="end" font-weight="normal" fill="#1a1a1a" stroke="#1a1a1a" stroke-width="0.45" stroke-linejoin="round" textLength="13.65" lengthAdjust="spacingAndGlyphs" >300</text>
<line x1="315.1" y1="404.5" x2="315.1" y2="407.5" stroke="#555555" stroke-width="1"/>
<line x1="329.84" y1="404.5" x2="329.84" y2="405.9" stroke="#555555" stroke-width="1"/>
<line x1="344.59" y1="404.5" x2="344.59" y2="407.5" stroke="#555555" stroke-width="1"/>
<line x1="359.33" y1="404.5" x2="359.33" y2="405.9" stroke="#555555" stroke-width="1"/>
<line x1="374.07" y1="404.5" x2="374.07" y2="407.5" stroke="#555555" stroke-width="1"/>
<line x1="388.82" y1="404.5" x2="388.82" y2="405.9" stroke="#555555" stroke-width="1"/>
<line x1="403.56" y1="404.5" x2="403.56" y2="407.5" stroke="#555555" stroke-width="1"/>
<line x1="418.3" y1="404.5" x2="418.3" y2="405.9" stroke="#555555" stroke-width="1"/>
<line x1="433.04" y1="404.5" x2="433.04" y2="407.5" stroke="#555555" stroke-width="1"/>
<line x1="447.79" y1="404.5" x2="447.79" y2="405.9" stroke="#555555" stroke-width="1"/>
<line x1="462.53" y1="404.5" x2="462.53" y2="407.5" stroke="#555555" stroke-width="1"/>
<line x1="477.27" y1="404.5" x2="477.27" y2="405.9" stroke="#555555" stroke-width="1"/>
<line x1="492.02" y1="404.5" x2="492.02" y2="407.5" stroke="#555555" stroke-width="1"/>
<line x1="506.76" y1="404.5" x2="506.76" y2="405.9" stroke="#555555" stroke-width="1"/>
<line x1="521.5" y1="404.5" x2="521.5" y2="407.5" stroke="#555555" stroke-width="1"/>
<text x="316.5" y="418.6" font-size="9.3" text-anchor="middle" font-weight="normal" fill="#1a1a1a" stroke="#1a1a1a" stroke-width="0.45" stroke-linejoin="round" textLength="4.9" lengthAdjust="spacingAndGlyphs" >0</text>
<text x="345.99" y="418.6" font-size="9.3" text-anchor="middle" font-weight="normal" fill="#1a1a1a" stroke="#1a1a1a" stroke-width="0.45" stroke-linejoin="round" textLength="9.8" lengthAdjust="spacingAndGlyphs" >50</text>
<text x="375.47" y="418.6" font-size="9.3" text-anchor="middle" font-weight="normal" fill="#1a1a1a" stroke="#1a1a1a" stroke-width="0.45" stroke-linejoin="round" textLength="14.7" lengthAdjust="spacingAndGlyphs" >100</text>
<text x="404.96" y="418.6" font-size="9.3" text-anchor="middle" font-weight="normal" fill="#1a1a1a" stroke="#1a1a1a" stroke-width="0.45" stroke-linejoin="round" textLength="14.7" lengthAdjust="spacingAndGlyphs" >150</text>
<text x="434.44" y="418.6" font-size="9.3" text-anchor="middle" font-weight="normal" fill="#1a1a1a" stroke="#1a1a1a" stroke-width="0.45" stroke-linejoin="round" textLength="14.7" lengthAdjust="spacingAndGlyphs" >200</text>
<text x="463.93" y="418.6" font-size="9.3" text-anchor="middle" font-weight="normal" fill="#1a1a1a" stroke="#1a1a1a" stroke-width="0.45" stroke-linejoin="round" textLength="14.7" lengthAdjust="spacingAndGlyphs" >250</text>
<text x="493.42" y="418.6" font-size="9.3" text-anchor="middle" font-weight="normal" fill="#1a1a1a" stroke="#1a1a1a" stroke-width="0.45" stroke-linejoin="round" textLength="14.7" lengthAdjust="spacingAndGlyphs" >300</text>
<text x="522.9" y="418.6" font-size="9.3" text-anchor="middle" font-weight="normal" fill="#1a1a1a" stroke="#1a1a1a" stroke-width="0.45" stroke-linejoin="round" textLength="14.7" lengthAdjust="spacingAndGlyphs" >350</text>
<text x="426.4" y="434.2" font-size="11.8" text-anchor="middle" font-weight="normal" fill="#1a1a1a" stroke="#1a1a1a" stroke-width="0.6" stroke-linejoin="round" textLength="41.1" lengthAdjust="spacingAndGlyphs" >Time (s)</text>
<text x="0" y="0" font-size="10.8" text-anchor="middle" fill="#1a1a1a" stroke="#1a1a1a" stroke-width="0.36" stroke-linejoin="round" textLength="133.5" lengthAdjust="spacingAndGlyphs" transform="translate(289,310.3) rotate(-90)">Current density (&#956;A/cm<tspan font-size="6.5" dy="-4">2</tspan><tspan dy="4">)</tspan></text>
<text x="319.6" y="229.8" font-size="10.3" text-anchor="start" font-weight="bold" fill="#1a1a1a" stroke="#1a1a1a" stroke-width="0.25" stroke-linejoin="round" textLength="7.9" lengthAdjust="spacingAndGlyphs" >d)</text>
<line x1="468.2" y1="239.9" x2="484.2" y2="239.9" stroke="#14148c" stroke-width="1.7"/>
<text x="487.5" y="243.4" font-size="8.6" text-anchor="start" font-weight="normal" fill="#1a1a1a" stroke="#1a1a1a" stroke-width="0.45" stroke-linejoin="round" textLength="31.8" lengthAdjust="spacingAndGlyphs" >ZnO&#8211;50</text>
<line x1="468.2" y1="250.7" x2="484.2" y2="250.7" stroke="#1818f0" stroke-width="1.7"/>
<text x="487.5" y="254.2" font-size="8.6" text-anchor="start" font-weight="normal" fill="#1a1a1a" stroke="#1a1a1a" stroke-width="0.45" stroke-linejoin="round" textLength="35" lengthAdjust="spacingAndGlyphs" >ZnO&#8211;100</text>
<line x1="468.2" y1="261.5" x2="484.2" y2="261.5" stroke="#1ed21e" stroke-width="1.7"/>
<text x="487.5" y="265" font-size="8.6" text-anchor="start" font-weight="normal" fill="#1a1a1a" stroke="#1a1a1a" stroke-width="0.45" stroke-linejoin="round" textLength="35" lengthAdjust="spacingAndGlyphs" >ZnO&#8211;150</text>
<line x1="468.2" y1="272.3" x2="484.2" y2="272.3" stroke="#f8c000" stroke-width="1.7"/>
<text x="487.5" y="275.8" font-size="8.6" text-anchor="start" font-weight="normal" fill="#1a1a1a" stroke="#1a1a1a" stroke-width="0.45" stroke-linejoin="round" textLength="36.8" lengthAdjust="spacingAndGlyphs" >ZnO&#8211;200</text>
<rect x="7.7" y="4.2" width="534.8" height="442.4" fill="none" stroke="#1cb95f" stroke-width="1.8"/>
</svg></body></html>
